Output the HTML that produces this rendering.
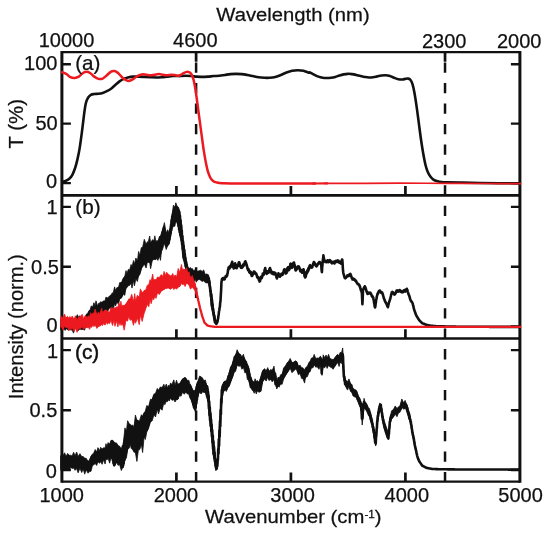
<!DOCTYPE html>
<html><head><meta charset="utf-8"><title>Spectra</title><style>html,body{margin:0;padding:0;background:#fff}body{width:550px;height:535px;overflow:hidden;position:relative}</style></head><body>
<svg width="550" height="535" viewBox="0 0 550 535" style="position:absolute;left:0;top:0">
<rect width="550" height="535" fill="#fff"/>
<defs><clipPath id="ca"><rect x="60.4" y="52.0" width="461.1" height="429.6"/></clipPath></defs>
<line x1="196.11" x2="196.11" y1="62.50" y2="481.60" stroke="#111" stroke-width="2.5" stroke-dasharray="10.3 10.17" />
<line x1="445.03" x2="445.03" y1="62.50" y2="481.60" stroke="#111" stroke-width="2.5" stroke-dasharray="10.3 10.17" />
<path d="M61.90,64.20L70.90,64.20M519.90,64.20L510.90,64.20M61.90,123.60L70.90,123.60M519.90,123.60L510.90,123.60M61.90,183.10L70.90,183.10M519.90,183.10L510.90,183.10M61.90,206.90L70.90,206.90M519.90,206.90L510.90,206.90M61.90,266.70L70.90,266.70M519.90,266.70L510.90,266.70M61.90,326.50L70.90,326.50M519.90,326.50L510.90,326.50M61.90,350.10L70.90,350.10M519.90,350.10L510.90,350.10M61.90,410.20L70.90,410.20M519.90,410.20L510.90,410.20M61.90,470.00L70.90,470.00M519.90,470.00L510.90,470.00" stroke="#111" stroke-width="2.4" fill="none"/>
<path d="M176.40,195.30L176.40,186.10M290.90,195.30L290.90,186.10M405.40,195.30L405.40,186.10M176.40,338.50L176.40,329.30M290.90,338.50L290.90,329.30M405.40,338.50L405.40,329.30M176.40,481.60L176.40,472.40M290.90,481.60L290.90,472.40M405.40,481.60L405.40,472.40M196.11,52.05L196.11,61.65M445.03,52.05L445.03,61.65" stroke="#111" stroke-width="2.7" fill="none"/>
<path d="M61.9,50.9V482.7M519.9,50.9V482.7" stroke="#111" stroke-width="3" fill="none"/>
<path d="M61.90,52.05H519.90M61.90,481.60H519.90" stroke="#111" stroke-width="2.35" fill="none"/>
<path d="M61.90,195.30H519.90M61.90,338.50H519.90" stroke="#111" stroke-width="2.7" fill="none"/>
<g clip-path="url(#ca)">
<path d="M61.17,181.78C61.78,181.68 63.50,181.68 64.81,181.21C66.12,180.75 67.76,180.05 69.02,178.97C70.28,177.90 71.36,176.64 72.38,174.77C73.41,172.90 74.35,170.33 75.19,167.76C76.03,165.19 76.68,162.62 77.43,159.35C78.18,156.07 78.97,152.34 79.67,148.13C80.37,143.93 81.07,138.32 81.64,134.11C82.20,129.91 82.57,126.64 83.04,122.90C83.50,119.16 83.97,114.95 84.44,111.68C84.91,108.41 85.23,105.61 85.84,103.27C86.45,100.93 87.24,99.07 88.08,97.66C88.93,96.26 89.86,95.47 90.89,94.86C91.92,94.25 92.99,94.21 94.25,94.02C95.51,93.83 97.06,93.93 98.46,93.74C99.86,93.55 101.26,93.32 102.66,92.90C104.07,92.48 105.47,91.92 106.87,91.21C108.27,90.51 109.67,89.72 111.07,88.69C112.48,87.66 113.88,86.26 115.28,85.05C116.68,83.83 118.08,82.43 119.49,81.40C120.89,80.37 122.29,79.53 123.69,78.88C125.09,78.22 126.26,77.85 127.90,77.48C129.53,77.10 131.64,76.78 133.50,76.64C135.37,76.50 137.24,76.59 139.11,76.64C140.98,76.68 142.85,76.82 144.72,76.92C146.59,77.01 148.46,77.10 150.33,77.20C152.20,77.29 154.07,77.48 155.93,77.48C157.80,77.48 159.67,77.34 161.54,77.20C163.41,77.06 165.28,76.82 167.15,76.64C169.02,76.45 170.89,76.17 172.76,76.07C174.63,75.98 177.16,76.07 178.36,76.07C179.57,76.07 178.79,76.12 180.00,76.07C181.21,76.03 183.74,75.79 185.61,75.79C187.48,75.79 189.35,75.93 191.21,76.07C193.08,76.21 194.95,76.50 196.82,76.64C198.69,76.78 200.56,76.92 202.43,76.92C204.30,76.92 206.17,76.78 208.04,76.64C209.91,76.50 211.78,76.21 213.64,76.07C215.51,75.93 217.38,75.98 219.25,75.79C221.12,75.61 222.99,75.23 224.86,74.95C226.73,74.67 228.60,74.30 230.47,74.11C232.34,73.93 234.21,73.83 236.07,73.83C237.94,73.83 239.81,73.93 241.68,74.11C243.55,74.30 245.42,74.63 247.29,74.95C249.16,75.28 251.03,75.70 252.90,76.07C254.77,76.45 256.64,76.92 258.50,77.20C260.37,77.48 262.24,77.66 264.11,77.76C265.98,77.85 267.85,77.90 269.72,77.76C271.59,77.62 273.46,77.38 275.33,76.92C277.20,76.45 279.07,75.70 280.93,74.95C282.80,74.21 284.67,73.13 286.54,72.43C288.41,71.73 290.28,71.12 292.15,70.75C294.02,70.37 295.89,70.19 297.76,70.19C299.63,70.19 301.50,70.33 303.36,70.75C305.23,71.17 307.87,72.43 308.97,72.71C310.08,72.99 309.13,72.10 310.00,72.43C310.87,72.76 312.80,73.97 314.21,74.67C315.61,75.37 317.01,76.12 318.41,76.64C319.81,77.15 321.21,77.52 322.62,77.76C324.02,77.99 325.42,78.04 326.82,78.04C328.22,78.04 329.63,77.94 331.03,77.76C332.43,77.57 333.83,77.29 335.23,76.92C336.64,76.54 338.04,75.93 339.44,75.51C340.84,75.09 342.24,74.67 343.64,74.39C345.05,74.11 346.45,73.88 347.85,73.83C349.25,73.79 350.65,73.93 352.06,74.11C353.46,74.30 354.86,74.63 356.26,74.95C357.66,75.28 359.07,75.75 360.47,76.07C361.87,76.40 363.27,76.68 364.67,76.92C366.07,77.15 367.48,77.43 368.88,77.48C370.28,77.52 371.68,77.38 373.08,77.20C374.49,77.01 375.89,76.64 377.29,76.36C378.69,76.07 380.09,75.70 381.50,75.51C382.90,75.33 384.30,75.14 385.70,75.23C387.10,75.33 388.50,75.65 389.91,76.07C391.31,76.50 392.71,77.24 394.11,77.76C395.51,78.27 396.92,78.88 398.32,79.16C399.72,79.44 401.36,79.49 402.52,79.44C403.69,79.39 404.39,79.02 405.33,78.88C406.26,78.74 407.29,78.46 408.13,78.60C408.97,78.74 409.67,78.88 410.37,79.72C411.07,80.56 411.68,81.59 412.34,83.64C412.99,85.70 413.60,88.32 414.30,92.06C415.00,95.79 415.79,100.93 416.54,106.07C417.29,111.21 418.04,117.29 418.79,122.90C419.53,128.50 420.28,134.58 421.03,139.72C421.78,144.86 422.52,149.53 423.27,153.74C424.02,157.94 424.77,161.92 425.51,164.95C426.26,167.99 426.92,170.00 427.76,171.96C428.60,173.93 429.63,175.47 430.56,176.73C431.50,177.99 432.20,178.79 433.36,179.53C434.53,180.28 436.17,180.79 437.57,181.21C438.97,181.64 440.14,181.87 441.78,182.06C443.41,182.24 444.35,182.24 447.38,182.34C450.42,182.43 454.56,182.51 460.00,182.62C465.44,182.73 469.83,182.87 480.00,183.00C490.17,183.13 514.17,183.33 521.00,183.40" stroke="#111" stroke-width="2.6" fill="none" stroke-linejoin="round"/>
<path d="M312,183.45L328,183.4" stroke="#ec1a20" stroke-width="2.1" fill="none"/>
<path d="M61.17,71.87C62.01,72.20 64.67,72.94 66.21,73.83C67.76,74.72 69.02,76.50 70.42,77.20C71.82,77.90 73.22,78.13 74.63,78.04C76.03,77.94 77.43,77.48 78.83,76.64C80.23,75.79 81.78,73.79 83.04,72.99C84.30,72.20 85.23,71.87 86.40,71.87C87.57,71.87 88.74,72.20 90.05,72.99C91.36,73.79 92.85,75.65 94.25,76.64C95.65,77.62 97.06,78.55 98.46,78.88C99.86,79.21 101.26,79.21 102.66,78.60C104.07,77.99 105.47,76.40 106.87,75.23C108.27,74.07 109.81,72.29 111.07,71.59C112.34,70.89 113.27,70.79 114.44,71.03C115.61,71.26 116.78,71.92 118.08,72.99C119.39,74.07 120.89,76.26 122.29,77.48C123.69,78.69 125.33,79.72 126.50,80.28C127.66,80.84 128.13,81.07 129.30,80.84C130.47,80.61 132.10,79.72 133.50,78.88C134.91,78.04 136.31,76.54 137.71,75.79C139.11,75.05 140.51,74.58 141.92,74.39C143.32,74.21 144.72,74.53 146.12,74.67C147.52,74.81 148.93,75.23 150.33,75.23C151.73,75.23 153.13,74.86 154.53,74.67C155.93,74.49 157.34,74.11 158.74,74.11C160.14,74.11 161.54,74.49 162.94,74.67C164.35,74.86 165.75,75.23 167.15,75.23C168.55,75.23 169.95,74.67 171.36,74.67C172.76,74.67 174.39,75.05 175.56,75.23C176.73,75.42 177.43,75.89 178.36,75.79C179.30,75.70 180.23,75.14 181.17,74.67C182.10,74.21 183.04,73.46 183.97,72.99C184.91,72.52 185.84,71.96 186.78,71.87C187.71,71.78 188.84,72.10 189.58,72.43C190.32,72.76 190.57,72.66 191.21,73.83C191.86,75.00 192.76,76.87 193.46,79.44C194.16,82.01 194.77,85.28 195.42,89.25C196.07,93.22 196.68,98.13 197.38,103.27C198.08,108.41 198.88,114.49 199.63,120.09C200.37,125.70 201.17,131.78 201.87,136.92C202.57,142.06 203.18,146.73 203.83,150.93C204.49,155.14 205.09,158.64 205.79,162.15C206.50,165.65 207.29,169.39 208.04,171.96C208.79,174.53 209.44,176.07 210.28,177.57C211.12,179.07 212.06,180.14 213.08,180.93C214.11,181.73 214.95,181.96 216.45,182.34C217.94,182.71 218.79,182.99 222.06,183.18C225.33,183.36 220.42,183.41 236.07,183.46C251.73,183.50 302.68,183.45 316.00,183.45" stroke="#ec1a20" stroke-width="2.5" fill="none" stroke-linejoin="round"/>
<path d="M324.00,183.40C330.00,183.38 347.33,183.33 360.00,183.30C372.67,183.27 385.00,183.20 400.00,183.20C415.00,183.20 435.00,183.25 450.00,183.30C465.00,183.35 478.07,183.45 490.00,183.50C501.93,183.55 516.33,183.58 521.60,183.60" stroke="#ec1a20" stroke-width="1.7" fill="none" stroke-linejoin="round"/>
<path d="M60.00,322.24L60.30,326.48L60.60,322.82L60.90,327.30L61.20,323.05L61.50,327.54L61.80,322.71L62.10,327.55L62.40,322.61L62.70,327.20L63.00,321.72L63.30,325.95L63.60,321.08L63.90,325.97L64.20,321.89L64.50,326.66L64.80,322.18L65.10,326.51L65.40,321.90L65.70,326.46L66.00,321.77L66.30,326.38L66.60,321.47L66.90,326.48L67.20,321.73L67.50,327.06L67.80,322.20L68.10,327.22L68.40,322.14L68.70,326.83L69.00,321.85L69.30,326.87L69.60,322.06L69.90,327.32L70.20,321.99L70.50,326.99L70.80,321.56L71.10,326.70L71.40,321.87L71.70,327.22L72.00,322.36L72.30,327.80L72.60,322.54L72.90,328.04L73.20,322.56L73.50,327.99L73.80,322.37L74.10,327.55L74.40,321.45L74.70,326.07L75.00,320.34L75.30,324.78L75.60,320.12L75.90,324.61L76.20,320.37L76.50,324.90L76.80,320.34L77.10,325.07L77.40,319.90L77.70,325.18L78.00,319.82L78.30,325.35L78.60,319.60L78.90,325.36L79.20,319.74L79.50,326.11L79.80,320.94L80.10,327.12L80.40,321.97L80.70,327.57L81.00,322.26L81.30,327.13L81.60,322.00L81.90,326.66L82.20,322.43L82.50,326.74L82.80,323.22L83.10,326.81L83.40,323.45L83.70,326.62L84.00,322.90L84.30,325.54L84.60,320.47L84.90,323.53L85.20,318.26L85.50,322.60L85.80,317.67L86.10,322.42L86.40,317.11L86.70,321.18L87.00,316.12L87.30,319.85L87.60,315.81L87.90,318.84L88.20,315.47L88.50,318.17L88.80,315.18L89.10,318.11L89.40,314.45L89.70,317.37L90.00,312.82L90.30,316.07L90.60,311.38L90.90,315.55L91.20,310.89L91.50,315.87L91.80,310.74L92.10,315.82L92.40,309.94L92.70,314.90L93.00,309.37L93.30,314.40L93.60,309.84L93.90,314.07L94.20,309.95L94.50,312.86L94.80,308.97L95.10,311.77L95.40,308.08L95.70,311.87L96.00,307.87L96.30,312.50L96.60,308.25L96.90,313.13L97.20,308.84L97.50,313.67L97.80,308.83L98.10,313.63L98.40,307.72L98.70,312.85L99.00,306.52L99.30,311.93L99.60,305.87L99.90,310.89L100.20,305.68L100.50,309.99L100.80,305.84L101.10,309.30L101.40,305.69L101.70,308.50L102.00,304.98L102.30,307.94L102.60,304.40L102.90,307.83L103.20,304.41L103.50,307.84L103.80,304.48L104.10,307.55L104.40,304.27L104.70,307.14L105.00,303.71L105.30,306.86L105.60,303.23L105.90,306.61L106.20,302.87L106.50,305.95L106.80,302.03L107.10,305.41L107.40,300.95L107.70,305.29L108.00,300.24L108.30,305.53L108.60,299.73L108.90,305.68L109.20,299.29L109.50,305.86L109.80,298.88L110.10,305.65L110.40,297.97L110.70,304.98L111.00,297.05L111.30,304.26L111.60,296.28L111.90,303.57L112.20,295.79L112.50,303.09L112.80,295.60L113.10,302.70L113.40,295.53L113.70,302.13L114.00,295.13L114.30,301.47L114.60,294.48L114.90,300.91L115.20,293.63L115.50,300.41L115.80,293.04L116.10,300.16L116.40,292.82L116.70,300.12L117.00,292.48L117.30,299.98L117.60,291.71L117.90,299.64L118.20,290.48L118.50,298.78L118.80,289.08L119.10,297.49L119.40,287.91L119.70,297.09L120.00,287.41L120.30,297.39L120.60,286.52L120.90,297.14L121.20,285.14L121.50,296.13L121.80,283.99L122.10,294.61L122.40,282.98L122.70,292.78L123.00,281.77L123.30,291.37L123.60,280.40L123.90,290.56L124.20,279.05L124.50,289.87L124.80,278.03L125.10,288.54L125.40,277.20L125.70,286.20L126.00,276.65L126.30,283.70L126.60,276.55L126.90,282.31L127.20,276.27L127.50,282.35L127.80,275.29L128.10,282.99L128.40,273.80L128.70,283.25L129.00,272.84L129.30,283.03L129.60,272.77L129.90,282.50L130.20,272.79L130.50,281.71L130.80,272.00L131.10,280.84L131.40,270.50L131.70,279.98L132.00,269.01L132.30,278.91L132.60,268.09L132.90,277.85L133.20,267.80L133.50,277.02L133.80,267.38L134.10,276.35L134.40,266.30L134.70,276.02L135.00,265.11L135.30,276.35L135.60,264.45L135.90,276.82L136.20,264.17L136.50,276.88L136.80,264.14L137.10,276.66L137.40,263.97L137.70,275.99L138.00,262.69L138.30,274.81L138.60,260.95L138.90,273.32L139.20,259.20L139.50,271.81L139.80,258.01L140.10,270.38L140.40,257.58L140.70,268.52L141.00,256.62L141.30,266.04L141.60,254.87L141.90,264.03L142.20,252.42L142.50,262.54L142.80,249.74L143.10,261.51L143.40,248.47L143.70,262.04L144.00,248.31L144.30,262.62L144.60,248.28L144.90,262.48L145.20,247.98L145.50,261.89L145.80,247.58L146.10,261.41L146.40,246.81L146.70,260.78L147.00,245.86L147.30,260.15L147.60,245.27L147.90,259.38L148.20,244.64L148.50,258.73L148.80,244.46L149.10,259.32L149.40,245.01L149.70,260.71L150.00,245.45L150.30,261.40L150.60,245.27L150.90,260.65L151.20,244.83L151.50,259.52L151.80,244.56L152.10,258.54L152.40,243.89L152.70,257.53L153.00,243.39L153.30,257.81L153.60,243.14L153.90,258.13L154.20,243.15L154.50,258.28L154.80,243.76L155.10,257.89L155.40,244.62L155.70,257.09L156.00,244.89L156.30,255.81L156.60,244.58L156.90,254.69L157.20,244.21L157.50,254.34L157.80,243.52L158.10,254.28L158.40,242.34L158.70,254.31L159.00,241.39L159.30,254.32L159.60,240.72L159.90,254.02L160.20,239.69L160.50,252.25L160.80,237.85L161.10,249.79L161.40,236.20L161.70,246.71L162.00,234.49L162.30,243.81L162.60,232.38L162.90,241.09L163.20,229.68L163.50,238.83L163.80,227.85L164.10,238.04L164.40,230.03L164.70,240.82L165.00,233.32L165.30,243.26L165.60,235.19L165.90,245.03L166.20,236.27L166.50,245.55L166.80,235.94L167.10,244.96L167.40,235.99L167.70,243.93L168.00,236.33L168.30,242.92L168.60,236.33L168.90,241.18L169.20,235.69L169.50,239.27L169.80,233.69L170.10,235.96L170.40,229.27L170.70,233.12L171.00,224.99L171.30,230.04L171.60,220.17L171.90,226.96L172.20,216.75L172.50,226.05L172.80,214.49L173.10,224.51L173.40,212.21L173.70,223.19L174.00,210.75L174.30,222.15L174.60,209.60L174.90,221.26L175.20,208.41L175.50,219.82L175.80,206.83L176.10,219.47L176.40,206.83L176.70,219.88L177.00,207.47L177.30,220.92L177.60,208.33L177.90,222.97L178.20,209.59L178.50,226.11L178.80,210.83L179.10,229.39L179.40,212.16L179.70,232.24L180.00,215.91L180.30,234.98L180.60,220.30L180.90,236.93L181.20,225.18L181.50,240.13L181.80,230.70L182.10,244.45L182.40,236.02L182.70,249.32L183.00,241.27L183.30,253.54L183.60,246.00L183.90,257.15L184.20,250.13L184.50,260.13L184.80,254.13L185.10,263.25L185.40,258.16L185.70,265.97L186.00,261.43L186.30,268.80L186.60,265.10L186.90,271.53L187.20,267.69L187.50,273.03L187.80,269.15L188.10,273.50L188.40,270.43L188.70,274.48L189.00,272.04L189.30,275.66L189.60,272.81L189.90,275.66L190.20,271.79L190.50,274.72L190.80,270.98L191.10,274.87L191.40,271.54L191.70,275.50L192.00,272.08L192.30,275.52L192.60,272.50L192.90,275.90L193.20,273.40L193.50,276.60L193.80,273.68L194.10,276.55L194.40,273.19L194.70,276.45L195.00,273.02L195.30,276.81L195.60,273.00L195.90,276.94L196.20,272.84L196.50,276.95L196.80,273.24L197.10,277.31L197.40,273.97L197.70,277.60L198.00,274.32L198.30,277.48L198.60,273.85L198.90,277.03L199.20,273.16L199.50,276.77L199.80,272.94L200.10,277.07L200.40,273.39L200.70,277.82L201.00,273.80L201.30,278.45L201.60,273.82L201.90,278.93L202.20,273.81L202.50,278.93L202.80,273.87L203.10,278.20L203.40,274.47L203.70,278.24L204.00,275.87L204.30,278.89L204.60,276.65L204.90,279.38L205.20,277.03L205.50,279.83L205.80,277.37L206.10,279.90L206.40,278.01L206.70,280.35L207.00,278.97L207.30,280.49L207.60,278.42L207.90,279.49L208.20,277.60L208.50,279.25L208.80,278.42L209.10,281.42L209.40,281.23L209.70,285.79L210.00,286.50L210.30,291.67L210.60,290.63L210.90,296.16L211.20,294.08L211.50,300.60L211.80,299.08L212.10,305.86L212.40,304.16L212.70,309.61L213.00,308.56L213.30,312.90L213.60,312.49L213.90,315.56L214.20,315.57L214.50,318.28L214.80,318.99L215.10,321.15L215.40,321.04L215.70,322.33L216.00,322.70L216.30,323.97L216.60,323.14L216.90,323.12L217.20,321.94L217.50,321.89L217.80,319.72L218.10,318.60L218.40,315.78L218.70,314.63L219.00,311.34L219.30,310.24L219.60,307.62L219.90,306.79L220.20,302.71L220.50,301.04L220.80,295.37L221.10,290.75L221.40,282.87L221.70,281.03L222.00,279.06L222.30,279.78L222.60,278.25L222.90,278.93L223.20,277.96L223.50,278.67L223.80,278.24L224.10,279.41L224.40,278.85L224.70,279.29L225.00,277.78L225.30,277.76L225.60,276.31L225.90,276.78L226.20,275.93L226.50,276.59L226.80,275.41L227.10,275.70L227.40,273.55L227.70,273.05L228.00,270.22L228.30,269.89L228.60,267.44L228.90,268.38L229.20,266.89L229.50,268.53L229.80,266.58L230.10,267.55L230.40,265.71L230.70,267.00L231.00,265.17L231.30,265.93L231.60,263.25L231.90,263.93L232.20,261.88L232.50,264.16L232.80,263.84L233.10,266.90L233.40,266.68L233.70,268.49L234.00,267.02L234.30,267.52L234.60,265.19L234.90,265.37L235.20,263.37L235.50,265.04L235.80,264.90L236.10,267.83L236.40,267.05L236.70,268.18L237.00,265.77L237.30,266.56L237.60,264.95L237.90,266.17L238.20,264.31L238.50,264.41L238.80,262.42L239.10,263.01L239.40,262.44L239.70,264.30L240.00,264.57L240.30,266.61L240.60,266.33L240.90,267.60L241.20,266.55L241.50,267.63L241.80,266.70L242.10,267.80L242.40,266.53L242.70,266.99L243.00,265.12L243.30,265.61L243.60,264.13L243.90,265.49L244.20,263.91L244.50,264.60L244.80,262.07L245.10,262.82L245.40,261.34L245.70,263.24L246.00,262.66L246.30,264.79L246.60,264.45L246.90,266.56L247.20,266.62L247.50,268.92L247.80,268.58L248.10,270.16L248.40,269.10L248.70,270.71L249.00,270.32L249.30,272.44L249.60,271.88L249.90,272.87L250.20,271.54L250.50,272.44L250.80,272.06L251.10,274.06L251.40,274.29L251.70,275.96L252.00,275.13L252.30,275.83L252.60,274.24L252.90,274.43L253.20,272.75L253.50,272.98L253.80,271.66L254.10,272.37L254.40,271.68L254.70,272.87L255.00,272.51L255.30,273.72L255.60,273.20L255.90,274.15L256.20,273.58L256.50,275.06L256.80,275.05L257.10,276.98L257.40,276.52L257.70,278.02L258.00,276.96L258.30,278.58L258.60,277.83L258.90,279.99L259.20,279.69L259.50,281.58L259.80,280.50L260.10,281.00L260.40,278.70L260.70,278.41L261.00,276.72L261.30,278.58L261.60,276.85L261.90,277.76L262.20,276.05L262.50,276.15L262.80,273.56L263.10,274.86L263.40,273.27L263.70,274.77L264.00,272.81L264.30,272.95L264.60,269.80L264.90,269.53L265.20,268.04L265.50,270.17L265.80,270.69L266.10,273.30L266.40,272.81L266.70,273.90L267.00,272.15L267.30,272.86L267.60,271.26L267.90,272.61L268.20,271.45L268.50,272.83L268.80,271.02L269.10,271.57L269.40,269.14L269.70,269.71L270.00,268.08L270.30,269.91L270.60,269.56L270.90,272.15L271.20,271.57L271.50,273.37L271.80,271.74L272.10,273.12L272.40,271.90L272.70,273.80L273.00,272.83L273.30,274.15L273.60,272.63L273.90,273.76L274.20,272.51L274.50,274.30L274.80,273.00L275.10,274.59L275.40,272.98L275.70,274.97L276.00,274.41L276.30,277.12L276.60,276.79L276.90,278.41L277.20,276.88L277.50,277.10L277.80,274.89L278.10,275.08L278.40,273.38L278.70,274.80L279.00,274.13L279.30,276.38L279.60,275.48L279.90,276.67L280.20,274.97L280.50,276.01L280.80,274.55L281.10,275.43L281.40,273.86L281.70,274.75L282.00,273.62L282.30,274.89L282.60,273.71L282.90,274.43L283.20,272.46L283.50,272.54L283.80,270.41L284.10,270.98L284.40,269.28L284.70,270.59L285.00,269.61L285.30,272.22L285.60,271.16L285.90,273.58L286.20,271.07L286.50,273.08L286.80,269.76L287.10,271.82L287.40,268.05L287.70,270.44L288.00,267.21L288.30,270.00L288.60,267.45L288.90,270.22L289.20,267.64L289.50,269.32L289.80,266.21L290.10,267.11L290.40,263.81L290.70,265.11L291.00,263.66L291.30,266.91L291.60,265.68L291.90,267.84L292.20,265.68L292.50,266.76L292.80,264.23L293.10,265.11L293.40,262.86L293.70,263.95L294.00,262.54L294.30,264.66L294.60,264.73L294.90,267.95L295.20,268.10L295.50,270.38L295.80,269.03L296.10,270.24L296.40,268.33L296.70,269.32L297.00,267.31L297.30,268.37L297.60,266.60L297.90,267.89L298.20,266.41L298.50,267.80L298.80,266.52L299.10,268.02L299.40,267.39L299.70,269.60L300.00,269.57L300.30,271.41L300.60,270.54L300.90,271.30L301.20,269.91L301.50,271.37L301.80,270.70L302.10,272.82L302.40,271.38L302.70,272.38L303.00,269.78L303.30,270.83L303.60,269.29L303.90,272.05L304.20,272.07L304.50,276.03L304.80,276.03L305.10,277.43L305.40,275.46L305.70,276.81L306.00,274.88L306.30,274.66L306.60,271.80L306.90,273.05L307.20,270.93L307.50,272.33L307.80,269.75L308.10,271.03L308.40,268.37L308.70,269.88L309.00,267.27L309.30,268.44L309.60,265.87L309.90,266.79L310.20,265.17L310.50,266.58L310.80,265.64L311.10,267.26L311.40,266.36L311.70,267.65L312.00,266.69L312.30,267.34L312.60,265.69L312.90,265.36L313.20,263.37L313.50,263.26L313.80,262.09L314.10,262.86L314.40,262.54L314.70,263.80L315.00,263.68L315.30,264.93L315.60,264.71L315.90,265.94L316.20,265.49L316.50,266.41L316.80,265.37L317.10,265.72L317.40,264.36L317.70,264.70L318.00,263.64L318.30,263.97L318.60,262.91L318.90,263.08L319.20,262.12L319.50,262.50L319.80,262.10L320.10,262.96L320.40,262.86L320.70,263.83L321.00,263.50L321.30,265.77L321.60,270.09L321.90,272.11L322.20,267.23L322.50,264.26L322.80,260.35L323.10,258.82L323.40,255.34L323.70,257.38L324.00,258.51L324.30,261.50L324.60,260.64L324.90,261.77L325.20,261.09L325.50,262.04L325.80,261.08L326.10,262.03L326.40,261.34L326.70,262.20L327.00,261.08L327.30,261.34L327.60,260.36L327.90,261.39L328.20,261.09L328.50,262.18L328.80,261.23L329.10,261.64L329.40,260.37L329.70,261.08L330.00,260.20L330.30,261.44L330.60,260.84L330.90,262.25L331.20,261.71L331.50,263.04L331.80,262.34L332.10,263.32L332.40,262.37L332.70,263.10L333.00,261.91L333.30,262.68L333.60,261.71L333.90,263.02L334.20,262.31L334.50,263.43L334.80,262.00L335.10,262.61L335.40,261.10L335.70,261.99L336.00,260.88L336.30,261.96L336.60,260.98L336.90,261.95L337.20,260.80L337.50,261.61L337.80,260.43L338.10,261.46L338.40,260.76L338.70,262.20L339.00,261.72L339.30,262.69L339.60,261.77L339.90,262.47L340.20,261.96L340.50,263.07L340.80,262.80L341.10,263.64L341.40,262.86L341.70,261.85L342.00,259.48L342.30,259.62L342.60,263.71L342.90,269.10L343.20,272.13L343.50,273.76L343.80,274.37L344.10,275.99L344.40,276.54L344.70,277.98L345.00,278.07L345.30,278.39L345.60,277.58L345.90,277.90L346.20,277.21L346.50,277.34L346.80,276.30L347.10,276.28L347.40,275.43L347.70,275.92L348.00,275.36L348.30,276.03L348.60,275.32L348.90,275.96L349.20,274.95L349.50,275.36L349.80,274.14L350.10,274.54L350.40,273.85L350.70,275.00L351.00,275.15L351.30,276.79L351.60,277.11L351.90,278.57L352.20,278.57L352.50,279.50L352.80,278.89L353.10,279.28L353.40,278.61L353.70,279.24L354.00,278.89L354.30,279.71L354.60,279.45L354.90,280.37L355.20,280.08L355.50,280.90L355.80,280.55L356.10,281.53L356.40,281.57L356.70,282.78L357.00,282.78L357.30,283.62L357.60,283.33L357.90,284.06L358.20,283.80L358.50,284.61L358.80,284.35L359.10,285.34L359.40,285.09L359.70,286.49L360.00,286.57L360.30,288.35L360.60,288.52L360.90,290.45L361.20,290.40L361.50,291.91L361.80,291.50L362.10,297.98L362.40,304.22L362.70,298.72L363.00,290.07L363.30,289.76L363.60,288.20L363.90,288.46L364.20,287.37L364.50,287.28L364.80,286.26L365.10,287.25L365.40,287.32L365.70,288.90L366.00,289.23L366.30,290.81L366.60,291.07L366.90,292.62L367.20,292.79L367.50,293.97L367.80,293.40L368.10,293.75L368.40,292.87L368.70,293.21L369.00,292.63L369.30,293.27L369.60,292.74L369.90,293.35L370.20,292.60L370.50,293.46L370.80,293.12L371.10,294.37L371.40,294.44L371.70,295.88L372.00,295.74L372.30,296.88L372.60,296.43L372.90,297.55L373.20,297.37L373.50,299.54L373.80,300.23L374.10,302.87L374.40,303.97L374.70,306.51L375.00,307.41L375.30,306.72L375.60,304.06L375.90,302.39L376.20,299.59L376.50,298.76L376.80,296.53L377.10,295.81L377.40,293.96L377.70,294.26L378.00,292.80L378.30,292.95L378.60,291.51L378.90,291.76L379.20,290.72L379.50,291.29L379.80,290.57L380.10,290.97L380.40,291.23L380.70,292.38L381.00,292.06L381.30,292.78L381.60,292.20L381.90,292.90L382.20,292.54L382.50,293.78L382.80,294.00L383.10,295.67L383.40,296.32L383.70,297.90L384.00,298.19L384.30,299.50L384.60,299.73L384.90,301.15L385.20,301.35L385.50,302.31L385.80,302.24L386.10,303.30L386.40,303.41L386.70,304.65L387.00,304.81L387.30,306.12L387.60,306.16L387.90,307.29L388.20,305.57L388.50,304.73L388.80,302.92L389.10,302.43L389.40,301.06L389.70,300.71L390.00,299.16L390.30,298.90L390.60,297.00L390.90,296.32L391.20,294.25L391.50,293.91L391.80,292.19L392.10,292.76L392.40,291.88L392.70,292.95L393.00,292.34L393.30,293.55L393.60,293.03L393.90,294.19L394.20,293.73L394.50,294.62L394.80,293.78L395.10,294.16L395.40,292.98L395.70,293.13L396.00,291.79L396.30,291.85L396.60,290.63L396.90,291.08L397.20,290.45L397.50,291.38L397.80,290.85L398.10,291.68L398.40,290.85L398.70,291.44L399.00,290.31L399.30,290.88L399.60,289.99L399.90,291.01L400.20,290.43L400.50,291.55L400.80,290.86L401.10,291.91L401.40,291.15L401.70,292.19L402.00,291.36L402.30,292.37L402.60,291.42L402.90,292.25L403.20,291.05L403.50,291.64L403.80,290.20L404.10,290.91L404.40,290.02L404.70,291.19L405.00,290.65L405.30,291.57L405.60,290.49L405.90,290.61L406.20,289.24L406.50,289.45L406.80,288.73L407.10,289.91L407.40,290.02L407.70,291.59L408.00,292.11L408.30,293.76L408.60,294.08L408.90,295.29L409.20,295.46L409.50,296.87L409.80,297.45L410.10,299.10L410.40,299.49L410.70,300.68L411.00,300.69L411.30,301.51L411.60,301.49L411.90,302.25L412.20,302.28L412.50,303.32L412.80,303.90L413.10,305.46L413.40,306.35L413.70,308.04L414.00,308.88L414.30,310.34L414.60,310.72L414.90,311.84L415.20,312.37L415.50,313.56L415.80,314.05L416.10,315.06L416.40,315.46L416.70,316.27L417.00,316.52L417.30,317.23L417.60,317.57L417.90,318.24L418.20,318.54L418.50,319.09L418.80,319.43L419.10,319.99L419.40,320.40L419.70,320.72L420.00,320.98L420.30,321.28L420.60,321.58L420.90,321.88L421.20,322.18L421.50,322.48L421.80,322.78L422.10,323.08L422.40,323.23L422.70,323.35L423.00,323.47L423.30,323.59L423.60,323.71L423.90,323.83L424.20,323.95L424.50,324.07L424.80,324.19L425.10,324.31L425.40,324.43L425.70,324.55L426.00,324.67L426.30,324.79L426.60,324.86L426.90,324.92L427.20,324.98L427.50,325.04L427.80,325.10L428.10,325.16L428.40,325.22L428.70,325.28L429.00,325.34L429.30,325.40L429.60,325.46L429.90,325.52L430.20,325.58L430.50,325.64L430.80,325.68L431.10,325.71L431.40,325.74L431.70,325.77L432.00,325.80L432.30,325.83L432.60,325.86L432.90,325.89L433.20,325.92L433.50,325.95L433.80,325.98L434.10,326.01L434.40,326.04L434.70,326.07L435.00,326.10L435.30,326.13L435.60,326.16L435.90,326.19L436.20,326.22L436.50,326.22L436.80,326.23L437.10,326.24L437.40,326.24L437.70,326.25L438.00,326.26L438.30,326.27L438.60,326.27L438.90,326.28L439.20,326.29L439.50,326.29L439.80,326.30L440.10,326.31L440.40,326.31L440.70,326.32L441.00,326.33L441.30,326.34L441.60,326.34L441.90,326.35L442.20,326.36L442.50,326.36L442.80,326.37L443.10,326.38L443.40,326.39L443.70,326.39L444.00,326.40L444.30,326.41L444.60,326.41L444.90,326.42L445.20,326.43L445.50,326.43L445.80,326.44L446.10,326.45L446.40,326.46L446.70,326.46L447.00,326.47L447.30,326.48L447.60,326.48L447.90,326.49L448.20,326.50L448.50,326.51L448.80,326.51L449.10,326.52L449.40,326.53L449.70,326.53L450.00,326.54L450.30,326.55L450.60,326.55L450.90,326.56L451.20,326.57L451.50,326.58L451.80,326.58L452.10,326.59L452.40,326.60L452.70,326.60L453.00,326.61L453.30,326.62L453.60,326.63L453.90,326.63L454.20,326.64L454.50,326.65L454.80,326.65L455.10,326.66L455.40,326.67L455.70,326.67L456.00,326.68L456.30,326.69L456.60,326.70L456.90,326.70L457.20,326.71L457.50,326.72L457.80,326.72L458.10,326.73L458.40,326.74L458.70,326.75L459.00,326.75L459.30,326.76L459.60,326.77L459.90,326.77L460.20,326.78L460.50,326.77L460.80,326.77L461.10,326.77L461.40,326.77L461.70,326.77L462.00,326.77L462.30,326.77L462.60,326.77L462.90,326.77L463.20,326.77L463.50,326.77L463.80,326.77L464.10,326.77L464.40,326.76L464.70,326.76L465.00,326.76L465.30,326.76L465.60,326.76L465.90,326.76L466.20,326.76L466.50,326.76L466.80,326.76L467.10,326.76L467.40,326.76L467.70,326.76L468.00,326.76L468.30,326.75L468.60,326.75L468.90,326.75L469.20,326.75L469.50,326.75L469.80,326.75L470.10,326.75L470.40,326.75L470.70,326.75L471.00,326.75L471.30,326.76L471.60,326.76L471.90,326.76L472.20,326.76L472.50,326.76L472.80,326.76L473.10,326.76L473.40,326.76L473.70,326.76L474.00,326.77L474.30,326.77L474.60,326.77L474.90,326.77L475.20,326.77L475.50,326.77L475.80,326.77L476.10,326.77L476.40,326.78L476.70,326.78L477.00,326.78L477.30,326.78L477.60,326.78L477.90,326.78L478.20,326.78L478.50,326.78L478.80,326.78L479.10,326.79L479.40,326.79L479.70,326.79L480.00,326.79L480.30,326.79L480.60,326.79L480.90,326.79L481.20,326.79L481.50,326.80L481.80,326.80L482.10,326.80L482.40,326.80L482.70,326.80L483.00,326.80L483.30,326.80L483.60,326.80L483.90,326.80L484.20,326.81L484.50,326.81L484.80,326.81L485.10,326.81L485.40,326.81L485.70,326.81L486.00,326.81L486.30,326.81L486.60,326.82L486.90,326.82L487.20,326.82L487.50,326.82L487.80,326.82L488.10,326.82L488.40,326.82L488.70,326.82L489.00,326.82L489.30,326.83L489.60,326.83L489.90,326.83L490.20,326.83L490.50,326.83L490.80,326.83L491.10,326.83L491.40,326.83L491.70,326.84L492.00,326.84L492.30,326.84L492.60,326.84L492.90,326.84L493.20,326.84L493.50,326.84L493.80,326.84L494.10,326.84L494.40,326.85L494.70,326.85L495.00,326.85L495.30,326.85L495.60,326.85L495.90,326.85L496.20,326.85L496.50,326.85L496.80,326.86L497.10,326.86L497.40,326.86L497.70,326.86L498.00,326.86L498.30,326.86L498.60,326.86L498.90,326.86L499.20,326.86L499.50,326.87L499.80,326.87L500.10,326.87L500.40,326.87L500.70,326.87L501.00,326.87L501.30,326.87L501.60,326.87L501.90,326.88L502.20,326.88L502.50,326.88L502.80,326.88L503.10,326.88L503.40,326.88L503.70,326.88L504.00,326.88L504.30,326.88L504.60,326.89L504.90,326.89L505.20,326.89L505.50,326.89L505.80,326.89L506.10,326.89L506.40,326.89L506.70,326.89L507.00,326.90L507.30,326.90L507.60,326.90L507.90,326.90L508.20,326.90L508.50,326.90L508.80,326.90L509.10,326.90L509.40,326.90L509.70,326.91L510.00,326.91L510.30,326.91L510.60,326.91L510.90,326.91L511.20,326.91L511.50,326.91L511.80,326.91L512.10,326.92L512.40,326.92L512.70,326.92L513.00,326.92L513.30,326.92L513.60,326.92L513.90,326.92L514.20,326.92L514.50,326.92L514.80,326.93L515.10,326.93L515.40,326.93L515.70,326.93L516.00,326.93L516.30,326.93L516.60,326.93L516.90,326.93L517.20,326.94L517.50,326.94L517.80,326.94L518.10,326.94L518.40,326.94L518.70,326.94L519.00,326.94L519.30,326.94L519.60,326.94L519.90,326.95L520.20,326.95L520.50,326.95L520.80,326.95" stroke="#111" stroke-width="2.6" fill="none" stroke-linejoin="round"/>
<path d="M60.00,319.73L61.50,319.44L62.70,319.84L64.20,317.81L65.10,319.56L66.60,317.53L68.10,319.77L69.60,318.50L70.80,319.12L72.30,320.06L73.50,320.10L74.70,318.28L75.90,317.75L77.40,314.65L78.30,317.36L79.80,315.65L81.30,319.67L83.10,320.58L84.60,318.03L86.10,314.51L87.90,313.04L88.80,310.87L90.30,309.42L91.20,305.88L92.70,307.03L93.90,302.73L95.10,305.63L96.00,300.80L97.50,306.28L98.40,303.41L99.60,303.31L100.50,301.77L102.00,302.36L103.50,300.86L105.00,301.07L105.90,297.15L107.70,297.97L109.50,295.90L111.30,294.74L112.20,292.81L113.10,293.42L114.60,286.86L115.50,290.51L117.00,287.48L118.50,287.67L119.70,282.61L121.50,282.64L123.00,278.71L124.80,276.34L126.00,270.61L126.90,273.60L128.40,269.33L129.60,270.15L131.10,264.47L132.00,267.10L133.50,260.56L134.40,264.26L135.90,257.97L137.40,261.32L138.60,251.45L139.80,255.41L141.30,247.55L142.50,247.79L144.30,239.37L146.10,244.43L147.30,241.79L148.20,242.17L149.70,236.01L150.60,243.04L152.40,239.71L153.90,240.69L154.80,235.82L156.00,242.14L156.90,240.30L157.80,241.56L159.60,236.08L160.50,237.29L161.40,233.36L162.90,228.97L164.40,222.64L166.20,233.17L167.70,229.78L169.20,233.19L170.40,226.09L171.90,216.18L173.40,205.25L174.90,207.47L175.80,202.74L177.30,206.99L178.50,207.30L180.00,214.63L181.80,227.26L182.70,236.86L184.50,247.41L186.00,259.17L187.80,266.25L188.70,268.71L190.50,267.60L191.40,268.99L192.30,268.48L193.80,271.06L195.30,269.21L196.20,270.35L197.70,271.33L199.20,270.66L200.70,270.25L202.20,271.38L203.70,269.94L205.20,274.48L206.70,273.96L208.50,274.86L210.00,282.00L210.90,288.61L212.40,297.75L214.20,312.42L215.40,317.91L215.40,323.65L214.20,323.00L212.40,311.72L210.90,305.16L210.00,292.01L208.50,283.01L206.70,282.93L205.20,282.60L203.70,280.76L202.20,281.40L200.70,280.30L199.20,279.38L197.70,280.10L196.20,282.20L195.30,279.31L193.80,281.89L192.30,278.04L191.40,279.08L190.50,277.27L188.70,278.68L187.80,275.77L186.00,271.76L184.50,262.81L182.70,257.72L181.80,245.07L180.00,235.15L178.50,227.46L177.30,223.07L175.80,220.73L174.90,226.26L173.40,225.89L171.90,229.29L170.40,236.88L169.20,244.22L167.70,245.57L166.20,249.51L164.40,242.34L162.90,248.23L161.40,251.53L160.50,260.36L159.60,256.46L157.80,260.41L156.90,257.61L156.00,259.68L154.80,259.37L153.90,259.55L152.40,259.90L150.60,268.73L149.70,262.56L148.20,262.53L147.30,262.33L146.10,268.03L144.30,263.97L142.50,267.00L141.30,268.53L139.80,274.73L138.60,275.48L137.40,281.53L135.90,278.85L134.40,285.93L133.50,280.24L132.00,288.06L131.10,283.37L129.60,285.39L128.40,285.63L126.90,287.71L126.00,287.58L124.80,295.37L123.00,293.82L121.50,297.32L119.70,299.10L118.50,304.55L117.00,301.96L115.50,305.89L114.60,303.42L113.10,310.27L112.20,305.74L111.30,308.32L109.50,308.12L107.70,311.20L105.90,309.57L105.00,313.48L103.50,310.74L102.00,315.46L100.50,312.52L99.60,315.09L98.40,315.52L97.50,320.04L96.00,314.70L95.10,315.61L93.90,316.61L92.70,320.50L91.20,318.11L90.30,319.68L88.80,320.89L87.90,322.93L86.10,324.96L84.60,330.16L83.10,329.40L81.30,329.59L79.80,329.03L78.30,330.63L77.40,327.56L75.90,327.50L74.70,328.52L73.50,333.12L72.30,330.24L70.80,329.87L69.60,329.60L68.10,330.15L66.60,328.77L65.10,330.40L64.20,328.90L62.70,329.58L61.50,330.01L60.00,329.81Z" fill="#111" stroke="#111" stroke-width="0.8" stroke-linejoin="miter"/>
<path d="M60.00,320.07L60.30,324.51L60.60,320.38L60.90,324.54L61.20,320.18L61.50,324.44L61.80,319.98L62.10,324.56L62.40,320.07L62.70,324.81L63.00,320.46L63.30,325.00L63.60,320.71L63.90,324.52L64.20,320.27L64.50,323.55L64.80,319.72L65.10,323.03L65.40,319.78L65.70,323.65L66.00,320.70L66.30,324.82L66.60,321.41L66.90,325.34L67.20,321.18L67.50,324.73L67.80,320.12L68.10,323.89L68.40,319.83L68.70,324.36L69.00,320.94L69.30,325.38L69.60,321.70L69.90,325.29L70.20,321.24L70.50,324.26L70.80,320.37L71.10,323.62L71.40,320.58L71.70,324.40L72.00,321.68L72.30,325.27L72.60,322.14L72.90,325.38L73.20,321.93L73.50,325.55L73.80,322.13L74.10,326.37L74.40,322.04L74.70,326.28L75.00,320.77L75.30,325.66L75.60,319.95L75.90,325.89L76.20,320.35L76.50,326.79L76.80,321.48L77.10,327.69L77.40,322.17L77.70,327.55L78.00,322.39L78.30,326.76L78.60,321.54L78.90,325.36L79.20,320.39L79.50,324.17L79.80,319.41L80.10,323.48L80.40,318.93L80.70,323.29L81.00,319.22L81.30,323.58L81.60,319.83L81.90,323.96L82.20,320.50L82.50,324.54L82.80,321.16L83.10,324.93L83.40,321.53L83.70,325.12L84.00,321.96L84.30,325.33L84.60,321.97L84.90,325.01L85.20,321.23L85.50,324.25L85.80,320.40L86.10,324.05L86.40,320.34L86.70,324.73L87.00,320.34L87.30,325.03L87.60,319.73L87.90,325.01L88.20,319.45L88.50,325.20L88.80,319.48L89.10,325.06L89.40,319.03L89.70,324.37L90.00,318.00L90.30,323.72L90.60,317.22L90.90,323.46L91.20,316.73L91.50,323.10L91.80,316.57L92.10,322.85L92.40,316.53L92.70,322.52L93.00,316.07L93.30,322.42L93.60,315.36L93.90,322.48L94.20,314.66L94.50,322.62L94.80,314.77L95.10,323.12L95.40,315.72L95.70,323.85L96.00,316.78L96.30,324.49L96.60,317.28L96.90,325.04L97.20,317.41L97.50,325.54L97.80,317.12L98.10,325.35L98.40,316.38L98.70,324.87L99.00,315.90L99.30,324.64L99.60,315.61L99.90,324.56L100.20,315.45L100.50,324.30L100.80,315.59L101.10,323.72L101.40,315.68L101.70,322.91L102.00,315.49L102.30,322.34L102.60,315.31L102.90,322.01L103.20,314.98L103.50,321.46L103.80,314.13L104.10,320.52L104.40,312.87L104.70,319.71L105.00,312.03L105.30,319.50L105.60,311.91L105.90,319.75L106.20,312.53L106.50,320.20L106.80,313.28L107.10,320.31L107.40,313.83L107.70,320.39L108.00,314.40L108.30,320.43L108.60,314.55L108.90,320.30L109.20,314.62L109.50,320.10L109.80,314.61L110.10,319.20L110.40,313.80L110.70,318.19L111.00,312.88L111.30,317.80L111.60,312.32L111.90,317.69L112.20,311.73L112.50,317.19L112.80,311.02L113.10,317.13L113.40,310.63L113.70,317.63L114.00,310.40L114.30,318.17L114.60,310.22L114.90,318.11L115.20,310.23L115.50,317.65L115.80,310.61L116.10,317.35L116.40,310.82L116.70,317.56L117.00,310.51L117.30,318.27L117.60,309.89L117.90,318.86L118.20,309.16L118.50,319.14L118.80,308.35L119.10,319.48L119.40,307.67L119.70,320.16L120.00,307.64L120.30,320.58L120.60,308.12L120.90,320.14L121.20,308.68L121.50,319.53L121.80,309.19L122.10,319.91L122.40,309.93L122.70,320.92L123.00,310.37L123.30,320.68L123.60,309.62L123.90,319.00L124.20,307.73L124.50,317.78L124.80,306.29L125.10,317.69L125.40,305.60L125.70,317.43L126.00,305.10L126.30,316.73L126.60,304.51L126.90,316.42L127.20,303.58L127.50,315.84L127.80,302.37L128.10,314.89L128.40,301.74L128.70,314.01L129.00,301.61L129.30,313.32L129.60,301.25L129.90,313.00L130.20,300.78L130.50,314.19L130.80,301.37L131.10,315.96L131.40,302.62L131.70,317.56L132.00,303.55L132.30,318.78L132.60,303.73L132.90,319.30L133.20,303.54L133.50,319.21L133.80,303.43L134.10,318.17L134.40,302.84L134.70,317.18L135.00,302.51L135.30,316.53L135.60,302.82L135.90,316.21L136.20,303.52L136.50,316.45L136.80,304.02L137.10,316.25L137.40,303.46L137.70,315.29L138.00,302.05L138.30,314.46L138.60,300.98L138.90,314.35L139.20,300.41L139.50,314.00L139.80,299.73L140.10,312.20L140.40,298.58L140.70,309.75L141.00,297.29L141.30,308.61L141.60,296.36L141.90,308.72L142.20,295.57L142.50,309.67L142.80,295.93L143.10,310.84L143.40,296.49L143.70,310.43L144.00,295.22L144.30,306.50L144.60,293.24L144.90,303.65L145.20,292.41L145.50,301.88L145.80,292.70L146.10,300.83L146.40,293.27L146.70,300.73L147.00,293.14L147.30,301.55L147.60,292.02L147.90,301.17L148.20,289.78L148.50,299.63L148.80,287.21L149.10,298.04L149.40,285.43L149.70,296.85L150.00,284.36L150.30,295.72L150.60,283.62L150.90,295.02L151.20,283.11L151.50,295.17L151.80,282.71L152.10,296.00L152.40,282.82L152.70,296.46L153.00,282.85L153.30,296.19L153.60,283.18L153.90,295.37L154.20,283.61L154.50,294.65L154.80,284.07L155.10,294.35L155.40,283.92L155.70,293.76L156.00,283.14L156.30,292.84L156.60,282.40L156.90,291.86L157.20,281.67L157.50,290.72L157.80,280.83L158.10,289.61L158.40,280.13L158.70,288.94L159.00,279.51L159.30,288.91L159.60,278.78L159.90,289.44L160.20,278.22L160.50,290.03L160.80,278.03L161.10,290.19L161.40,278.00L161.70,289.88L162.00,277.95L162.30,289.52L162.60,277.98L162.90,289.13L163.20,277.68L163.50,288.76L163.80,277.31L164.10,288.24L164.40,277.40L164.70,287.59L165.00,277.68L165.30,287.04L165.60,277.56L165.90,286.95L166.20,277.11L166.50,287.48L166.80,276.78L167.10,287.31L167.40,276.45L167.70,287.16L168.00,276.12L168.30,287.13L168.60,276.32L168.90,287.32L169.20,276.79L169.50,287.49L169.80,277.28L170.10,287.15L170.40,277.59L170.70,286.58L171.00,278.17L171.30,286.25L171.60,278.70L171.90,285.71L172.20,278.73L172.50,285.22L172.80,278.64L173.10,285.20L173.40,278.77L173.70,285.73L174.00,278.93L174.30,286.34L174.60,278.90L174.90,286.47L175.20,278.78L175.50,286.56L175.80,279.19L176.10,287.14L176.40,279.72L176.70,287.01L177.00,279.10L177.30,286.54L177.60,278.30L177.90,286.25L178.20,276.97L178.50,285.98L178.80,275.56L179.10,286.02L179.40,274.53L179.70,285.34L180.00,273.54L180.30,284.05L180.60,272.69L180.90,282.36L181.20,272.05L181.50,281.18L181.80,271.38L182.10,281.42L182.40,271.72L182.70,282.47L183.00,271.74L183.30,283.01L183.60,271.36L183.90,283.05L184.20,270.99L184.50,282.79L184.80,271.06L185.10,282.13L185.40,271.65L185.70,281.23L186.00,272.44L186.30,280.93L186.60,273.22L186.90,281.23L187.20,274.14L187.50,282.00L187.80,275.54L188.10,282.73L188.40,277.09L188.70,282.89L189.00,277.98L189.30,282.58L189.60,278.56L189.90,282.63L190.20,279.69L190.50,283.66L190.80,281.05L191.10,284.42L191.40,281.40L191.70,284.36L192.00,281.19L192.30,284.55L192.60,281.91L192.90,285.33L193.20,282.78L193.50,285.28L193.80,282.98L194.10,285.04L194.40,283.83L194.70,286.00L195.00,286.05L195.30,288.44L195.60,288.94L195.90,291.00L196.20,291.43L196.50,293.21L196.80,293.93L197.10,295.69L197.40,296.35L197.70,298.11L198.00,298.94L198.30,300.75L198.60,301.65L198.90,303.36L199.20,304.24L199.50,305.94L199.80,306.89L200.10,308.57L200.40,309.33L200.70,310.68L201.00,311.22L201.30,312.61L201.60,313.56L201.90,315.24L202.20,315.93L202.50,317.22L202.80,317.68L203.10,318.75L203.40,319.31L203.70,320.49L204.00,321.17L204.30,322.28L204.60,322.77L204.90,323.21L205.20,323.24L205.50,323.63L205.80,323.76L206.10,324.17L206.40,324.41L206.70,324.83L207.00,325.13L207.30,325.47L207.60,325.55L207.90,325.66L208.20,325.71L208.50,325.79L208.80,325.86L209.10,325.94L209.40,326.02L209.70,326.10L210.00,326.18L210.30,326.22L210.60,326.27L210.90,326.31L211.20,326.35L211.50,326.40L211.80,326.44L212.10,326.48L212.40,326.53L212.70,326.57L213.00,326.61L213.30,326.66L213.60,326.70L213.90,326.74L214.20,326.79L214.50,326.83L214.80,326.87L215.10,326.90L215.40,326.90L215.70,326.90L216.00,326.90L216.30,326.90L216.60,326.89L216.90,326.89L217.20,326.89L217.50,326.89L217.80,326.89L218.10,326.89L218.40,326.89L218.70,326.89L219.00,326.89L219.30,326.89L219.60,326.88L219.90,326.88L220.20,326.88L220.50,326.88L220.80,326.88L221.10,326.88L221.40,326.88L221.70,326.88L222.00,326.88L222.30,326.88L222.60,326.87L222.90,326.87L223.20,326.87L223.50,326.87L223.80,326.87L224.10,326.87L224.40,326.87L224.70,326.87L225.00,326.87L225.30,326.87L225.60,326.86L225.90,326.86L226.20,326.86L226.50,326.86L226.80,326.86L227.10,326.86L227.40,326.86L227.70,326.86L228.00,326.86L228.30,326.86L228.60,326.85L228.90,326.85L229.20,326.85L229.50,326.85L229.80,326.85L230.10,326.85L230.40,326.85L230.70,326.85L231.00,326.85L231.30,326.85L231.60,326.85L231.90,326.85L232.20,326.85L232.50,326.85L232.80,326.85L233.10,326.85L233.40,326.85L233.70,326.85L234.00,326.85L234.30,326.85L234.60,326.85L234.90,326.85L235.20,326.85L235.50,326.85L235.80,326.85L236.10,326.85L236.40,326.85L236.70,326.85L237.00,326.85L237.30,326.85L237.60,326.85L237.90,326.85L238.20,326.85L238.50,326.85L238.80,326.85L239.10,326.85L239.40,326.85L239.70,326.85L240.00,326.85L240.30,326.85L240.60,326.85L240.90,326.85L241.20,326.85L241.50,326.85L241.80,326.85L242.10,326.85L242.40,326.85L242.70,326.85L243.00,326.85L243.30,326.85L243.60,326.85L243.90,326.85L244.20,326.85L244.50,326.85L244.80,326.85L245.10,326.85L245.40,326.85L245.70,326.85L246.00,326.85L246.30,326.85L246.60,326.85L246.90,326.85L247.20,326.85L247.50,326.85L247.80,326.85L248.10,326.85L248.40,326.85L248.70,326.85L249.00,326.85L249.30,326.85L249.60,326.85L249.90,326.85L250.20,326.85L250.50,326.85L250.80,326.85L251.10,326.85L251.40,326.85L251.70,326.85L252.00,326.85L252.30,326.85L252.60,326.85L252.90,326.85L253.20,326.85L253.50,326.85L253.80,326.85L254.10,326.85L254.40,326.85L254.70,326.85L255.00,326.85L255.30,326.85L255.60,326.85L255.90,326.85L256.20,326.85L256.50,326.85L256.80,326.85L257.10,326.85L257.40,326.85L257.70,326.85L258.00,326.85L258.30,326.85L258.60,326.85L258.90,326.85L259.20,326.85L259.50,326.85L259.80,326.85L260.10,326.85L260.40,326.85L260.70,326.85L261.00,326.85L261.30,326.85L261.60,326.85L261.90,326.85L262.20,326.85L262.50,326.85L262.80,326.85L263.10,326.85L263.40,326.85L263.70,326.85L264.00,326.85L264.30,326.85L264.60,326.85L264.90,326.85L265.20,326.85L265.50,326.85L265.80,326.85L266.10,326.85L266.40,326.85L266.70,326.85L267.00,326.85L267.30,326.85L267.60,326.85L267.90,326.85L268.20,326.85L268.50,326.85L268.80,326.85L269.10,326.85L269.40,326.85L269.70,326.85L270.00,326.85L270.30,326.85L270.60,326.85L270.90,326.85L271.20,326.85L271.50,326.85L271.80,326.85L272.10,326.85L272.40,326.85L272.70,326.85L273.00,326.85L273.30,326.85L273.60,326.85L273.90,326.85L274.20,326.85L274.50,326.85L274.80,326.85L275.10,326.85L275.40,326.85L275.70,326.85L276.00,326.85L276.30,326.85L276.60,326.85L276.90,326.85L277.20,326.85L277.50,326.85L277.80,326.85L278.10,326.85L278.40,326.85L278.70,326.85L279.00,326.85L279.30,326.85L279.60,326.85L279.90,326.85L280.20,326.85L280.50,326.85L280.80,326.85L281.10,326.85L281.40,326.85L281.70,326.85L282.00,326.85L282.30,326.85L282.60,326.85L282.90,326.85L283.20,326.85L283.50,326.85L283.80,326.85L284.10,326.85L284.40,326.85L284.70,326.85L285.00,326.85L285.30,326.85L285.60,326.85L285.90,326.85L286.20,326.85L286.50,326.85L286.80,326.85L287.10,326.85L287.40,326.85L287.70,326.85L288.00,326.85L288.30,326.85L288.60,326.85L288.90,326.85L289.20,326.85L289.50,326.85L289.80,326.85L290.10,326.85L290.40,326.85L290.70,326.85L291.00,326.85L291.30,326.85L291.60,326.85L291.90,326.85L292.20,326.85L292.50,326.85L292.80,326.85L293.10,326.85L293.40,326.85L293.70,326.85L294.00,326.85L294.30,326.85L294.60,326.85L294.90,326.85L295.20,326.85L295.50,326.85L295.80,326.85L296.10,326.85L296.40,326.85L296.70,326.85L297.00,326.85L297.30,326.85L297.60,326.85L297.90,326.85L298.20,326.85L298.50,326.85L298.80,326.85L299.10,326.85L299.40,326.85L299.70,326.85L300.00,326.85L300.30,326.85L300.60,326.85L300.90,326.85L301.20,326.85L301.50,326.85L301.80,326.85L302.10,326.85L302.40,326.85L302.70,326.85L303.00,326.85L303.30,326.85L303.60,326.85L303.90,326.85L304.20,326.85L304.50,326.85L304.80,326.85L305.10,326.85L305.40,326.85L305.70,326.85L306.00,326.85L306.30,326.85L306.60,326.85L306.90,326.85L307.20,326.85L307.50,326.85L307.80,326.85L308.10,326.85L308.40,326.85L308.70,326.85L309.00,326.85L309.30,326.85L309.60,326.85L309.90,326.85L310.20,326.85L310.50,326.85L310.80,326.85L311.10,326.85L311.40,326.85L311.70,326.85L312.00,326.85L312.30,326.85L312.60,326.85L312.90,326.85L313.20,326.85L313.50,326.85L313.80,326.85L314.10,326.85L314.40,326.85L314.70,326.85L315.00,326.85L315.30,326.85L315.60,326.85L315.90,326.85L316.20,326.85L316.50,326.85L316.80,326.85L317.10,326.85L317.40,326.85L317.70,326.85L318.00,326.85L318.30,326.85L318.60,326.85L318.90,326.85L319.20,326.85L319.50,326.85L319.80,326.85L320.10,326.85L320.40,326.85L320.70,326.85L321.00,326.85L321.30,326.85L321.60,326.85L321.90,326.85L322.20,326.85L322.50,326.85L322.80,326.85L323.10,326.85L323.40,326.85L323.70,326.85L324.00,326.85L324.30,326.85L324.60,326.85L324.90,326.85L325.20,326.85L325.50,326.85L325.80,326.85L326.10,326.85L326.40,326.85L326.70,326.85L327.00,326.85L327.30,326.85L327.60,326.85L327.90,326.85L328.20,326.85L328.50,326.85L328.80,326.85L329.10,326.85L329.40,326.85L329.70,326.85L330.00,326.85L330.30,326.85L330.60,326.85L330.90,326.85L331.20,326.85L331.50,326.85L331.80,326.85L332.10,326.85L332.40,326.85L332.70,326.85L333.00,326.85L333.30,326.85L333.60,326.85L333.90,326.85L334.20,326.85L334.50,326.85L334.80,326.85L335.10,326.85L335.40,326.85L335.70,326.85L336.00,326.85L336.30,326.85L336.60,326.85L336.90,326.85L337.20,326.85L337.50,326.85L337.80,326.85L338.10,326.85L338.40,326.85L338.70,326.85L339.00,326.85L339.30,326.85L339.60,326.85L339.90,326.85L340.20,326.85L340.50,326.85L340.80,326.85L341.10,326.85L341.40,326.85L341.70,326.85L342.00,326.85L342.30,326.85L342.60,326.85L342.90,326.85L343.20,326.85L343.50,326.85L343.80,326.85L344.10,326.85L344.40,326.85L344.70,326.85L345.00,326.85L345.30,326.85L345.60,326.85L345.90,326.85L346.20,326.85L346.50,326.85L346.80,326.85L347.10,326.85L347.40,326.85L347.70,326.85L348.00,326.85L348.30,326.85L348.60,326.85L348.90,326.85L349.20,326.85L349.50,326.85L349.80,326.85L350.10,326.85L350.40,326.85L350.70,326.85L351.00,326.85L351.30,326.85L351.60,326.85L351.90,326.85L352.20,326.85L352.50,326.85L352.80,326.85L353.10,326.85L353.40,326.85L353.70,326.85L354.00,326.85L354.30,326.85L354.60,326.85L354.90,326.85L355.20,326.85L355.50,326.85L355.80,326.85L356.10,326.85L356.40,326.85L356.70,326.85L357.00,326.85L357.30,326.85L357.60,326.85L357.90,326.85L358.20,326.85L358.50,326.85L358.80,326.85L359.10,326.85L359.40,326.85L359.70,326.85L360.00,326.85L360.30,326.85L360.60,326.85L360.90,326.85L361.20,326.85L361.50,326.85L361.80,326.85L362.10,326.85L362.40,326.85L362.70,326.85L363.00,326.85L363.30,326.85L363.60,326.85L363.90,326.85L364.20,326.85L364.50,326.85L364.80,326.85L365.10,326.85L365.40,326.85L365.70,326.85L366.00,326.85L366.30,326.85L366.60,326.85L366.90,326.85L367.20,326.85L367.50,326.85L367.80,326.85L368.10,326.85L368.40,326.85L368.70,326.85L369.00,326.85L369.30,326.85L369.60,326.85L369.90,326.85L370.20,326.85L370.50,326.85L370.80,326.85L371.10,326.85L371.40,326.85L371.70,326.85L372.00,326.85L372.30,326.85L372.60,326.85L372.90,326.85L373.20,326.85L373.50,326.85L373.80,326.85L374.10,326.85L374.40,326.85L374.70,326.85L375.00,326.85L375.30,326.85L375.60,326.85L375.90,326.85L376.20,326.85L376.50,326.85L376.80,326.85L377.10,326.85L377.40,326.85L377.70,326.85L378.00,326.85L378.30,326.85L378.60,326.85L378.90,326.85L379.20,326.85L379.50,326.85L379.80,326.85L380.10,326.85L380.40,326.85L380.70,326.85L381.00,326.85L381.30,326.85L381.60,326.85L381.90,326.85L382.20,326.85L382.50,326.85L382.80,326.85L383.10,326.85L383.40,326.85L383.70,326.85L384.00,326.85L384.30,326.85L384.60,326.85L384.90,326.85L385.20,326.85L385.50,326.85L385.80,326.85L386.10,326.85L386.40,326.85L386.70,326.85L387.00,326.85L387.30,326.85L387.60,326.85L387.90,326.85L388.20,326.85L388.50,326.85L388.80,326.85L389.10,326.85L389.40,326.85L389.70,326.85L390.00,326.85L390.30,326.85L390.60,326.85L390.90,326.85L391.20,326.85L391.50,326.85L391.80,326.85L392.10,326.85L392.40,326.85L392.70,326.85L393.00,326.85L393.30,326.85L393.60,326.85L393.90,326.85L394.20,326.85L394.50,326.85L394.80,326.85L395.10,326.85L395.40,326.85L395.70,326.85L396.00,326.85L396.30,326.85L396.60,326.85L396.90,326.85L397.20,326.85L397.50,326.85L397.80,326.85L398.10,326.85L398.40,326.85L398.70,326.85L399.00,326.85L399.30,326.85L399.60,326.85L399.90,326.85L400.20,326.85L400.50,326.85L400.80,326.85L401.10,326.85L401.40,326.85L401.70,326.85L402.00,326.85L402.30,326.85L402.60,326.85L402.90,326.85L403.20,326.85L403.50,326.85L403.80,326.85L404.10,326.85L404.40,326.85L404.70,326.85L405.00,326.85L405.30,326.85L405.60,326.85L405.90,326.85L406.20,326.85L406.50,326.85L406.80,326.85L407.10,326.85L407.40,326.85L407.70,326.85L408.00,326.85L408.30,326.85L408.60,326.85L408.90,326.85L409.20,326.85L409.50,326.85L409.80,326.85L410.10,326.85L410.40,326.85L410.70,326.85L411.00,326.85L411.30,326.85L411.60,326.85L411.90,326.85L412.20,326.85L412.50,326.85L412.80,326.85L413.10,326.85L413.40,326.85L413.70,326.85L414.00,326.85L414.30,326.85L414.60,326.85L414.90,326.85L415.20,326.85L415.50,326.85L415.80,326.85L416.10,326.85L416.40,326.85L416.70,326.85L417.00,326.85L417.30,326.85L417.60,326.85L417.90,326.85L418.20,326.85L418.50,326.85L418.80,326.85L419.10,326.85L419.40,326.85L419.70,326.85L420.00,326.85L420.30,326.85L420.60,326.85L420.90,326.85L421.20,326.85L421.50,326.85L421.80,326.85L422.10,326.85L422.40,326.85L422.70,326.85L423.00,326.85L423.30,326.85L423.60,326.85L423.90,326.85L424.20,326.85L424.50,326.85L424.80,326.85L425.10,326.85L425.40,326.85L425.70,326.85L426.00,326.85L426.30,326.85L426.60,326.85L426.90,326.85L427.20,326.85L427.50,326.85L427.80,326.85L428.10,326.85L428.40,326.85L428.70,326.85L429.00,326.85L429.30,326.85L429.60,326.85L429.90,326.85L430.20,326.85L430.50,326.85L430.80,326.85L431.10,326.85L431.40,326.85L431.70,326.85L432.00,326.85L432.30,326.85L432.60,326.85L432.90,326.85L433.20,326.85L433.50,326.85L433.80,326.85L434.10,326.85L434.40,326.85L434.70,326.85L435.00,326.85L435.30,326.85L435.60,326.85L435.90,326.85L436.20,326.85L436.50,326.85L436.80,326.85L437.10,326.85L437.40,326.85L437.70,326.85L438.00,326.85L438.30,326.85L438.60,326.85L438.90,326.85L439.20,326.85L439.50,326.85L439.80,326.85L440.10,326.85L440.40,326.85L440.70,326.85L441.00,326.85L441.30,326.85L441.60,326.85L441.90,326.85L442.20,326.85L442.50,326.85L442.80,326.85L443.10,326.85L443.40,326.85L443.70,326.85L444.00,326.85L444.30,326.85L444.60,326.85L444.90,326.85L445.20,326.85L445.50,326.85L445.80,326.85L446.10,326.85L446.40,326.85L446.70,326.85L447.00,326.85L447.30,326.85L447.60,326.85L447.90,326.85L448.20,326.85L448.50,326.85L448.80,326.85L449.10,326.85L449.40,326.85L449.70,326.85L450.00,326.85L450.30,326.85L450.60,326.85L450.90,326.85L451.20,326.85L451.50,326.85L451.80,326.85L452.10,326.85L452.40,326.85L452.70,326.85L453.00,326.85L453.30,326.85L453.60,326.85L453.90,326.85L454.20,326.85L454.50,326.85L454.80,326.85L455.10,326.85L455.40,326.85L455.70,326.85L456.00,326.85L456.30,326.85L456.60,326.85L456.90,326.85L457.20,326.85L457.50,326.85L457.80,326.85L458.10,326.85L458.40,326.85L458.70,326.85L459.00,326.85L459.30,326.85L459.60,326.85L459.90,326.85L460.20,326.85L460.50,326.85L460.80,326.85L461.10,326.85L461.40,326.85L461.70,326.85L462.00,326.85L462.30,326.85L462.60,326.85L462.90,326.85L463.20,326.85L463.50,326.85L463.80,326.85L464.10,326.85L464.40,326.85L464.70,326.85L465.00,326.85L465.30,326.85L465.60,326.85L465.90,326.85L466.20,326.85L466.50,326.85L466.80,326.85L467.10,326.85L467.40,326.85L467.70,326.85L468.00,326.85L468.30,326.85L468.60,326.85L468.90,326.85L469.20,326.85L469.50,326.85L469.80,326.85L470.10,326.85L470.40,326.85L470.70,326.85L471.00,326.85L471.30,326.85L471.60,326.85L471.90,326.85L472.20,326.85L472.50,326.85L472.80,326.85L473.10,326.85L473.40,326.85L473.70,326.85L474.00,326.85L474.30,326.85L474.60,326.85L474.90,326.85L475.20,326.85L475.50,326.85L475.80,326.85L476.10,326.85L476.40,326.85L476.70,326.85L477.00,326.85L477.30,326.85L477.60,326.85L477.90,326.85L478.20,326.85L478.50,326.85L478.80,326.85L479.10,326.85L479.40,326.85L479.70,326.85L480.00,326.85L480.30,326.85L480.60,326.85L480.90,326.85L481.20,326.85L481.50,326.85L481.80,326.85L482.10,326.85L482.40,326.85L482.70,326.85L483.00,326.85L483.30,326.85L483.60,326.85L483.90,326.85L484.20,326.85L484.50,326.85L484.80,326.85L485.10,326.85L485.40,326.85L485.70,326.85L486.00,326.85L486.30,326.85L486.60,326.85L486.90,326.85L487.20,326.85L487.50,326.85L487.80,326.85L488.10,326.85L488.40,326.85L488.70,326.85L489.00,326.85L489.30,326.85L489.60,326.85L489.90,326.85L490.20,326.85L490.50,326.85L490.80,326.85L491.10,326.85L491.40,326.85L491.70,326.85L492.00,326.85L492.30,326.85L492.60,326.85L492.90,326.85L493.20,326.85L493.50,326.85L493.80,326.85L494.10,326.85L494.40,326.85L494.70,326.85L495.00,326.85L495.30,326.85L495.60,326.85L495.90,326.85L496.20,326.85L496.50,326.85L496.80,326.85L497.10,326.85L497.40,326.85L497.70,326.85L498.00,326.85L498.30,326.85L498.60,326.85L498.90,326.85L499.20,326.85L499.50,326.85L499.80,326.85L500.10,326.85L500.40,326.85L500.70,326.85L501.00,326.85L501.30,326.85L501.60,326.85L501.90,326.85L502.20,326.85L502.50,326.85L502.80,326.85L503.10,326.85L503.40,326.85L503.70,326.85L504.00,326.85L504.30,326.85L504.60,326.85L504.90,326.85L505.20,326.85L505.50,326.85L505.80,326.85L506.10,326.85L506.40,326.85L506.70,326.85L507.00,326.85L507.30,326.85L507.60,326.85L507.90,326.85L508.20,326.85L508.50,326.85L508.80,326.85L509.10,326.85L509.40,326.85L509.70,326.85L510.00,326.85L510.30,326.85L510.60,326.85L510.90,326.85L511.20,326.85L511.50,326.85L511.80,326.85L512.10,326.85L512.40,326.85L512.70,326.85L513.00,326.85L513.30,326.85L513.60,326.85L513.90,326.85L514.20,326.85L514.50,326.85L514.80,326.85L515.10,326.85L515.40,326.85L515.70,326.85L516.00,326.85L516.30,326.85L516.60,326.85L516.90,326.85L517.20,326.85L517.50,326.85L517.80,326.85L518.10,326.85L518.40,326.85L518.70,326.85L519.00,326.85L519.30,326.85L519.60,326.85L519.90,326.85L520.20,326.85L520.50,326.85L520.80,326.85L521.10,326.85L521.40,326.85" stroke="#ec1a20" stroke-width="2.3" fill="none" stroke-linejoin="round"/>
<path d="M60.00,317.65L61.50,316.34L63.00,318.03L64.50,314.04L66.00,318.19L67.50,316.33L69.00,318.47L69.90,316.49L71.10,317.71L72.30,316.02L74.10,319.77L75.30,315.79L77.10,319.73L78.60,317.16L80.40,316.58L82.20,314.28L83.70,319.28L85.50,315.10L87.00,317.73L88.20,315.96L89.70,316.45L90.60,312.65L91.50,314.57L93.00,313.17L93.90,313.22L95.10,309.10L96.90,314.78L98.40,312.15L99.90,313.58L101.70,308.24L102.60,312.87L103.50,311.57L105.00,310.06L106.50,310.04L107.40,311.56L108.30,311.56L109.50,312.41L111.00,307.48L112.50,308.97L114.00,307.33L114.90,308.24L116.70,306.79L117.90,307.14L118.80,303.08L120.00,305.63L120.90,301.28L121.80,306.48L122.70,305.04L124.20,305.68L126.00,303.85L127.50,301.91L128.70,299.04L130.20,298.79L131.70,294.28L133.50,301.56L134.70,293.59L135.60,300.63L137.40,295.20L139.20,297.33L140.40,288.88L142.20,292.90L144.00,290.60L145.80,289.88L147.30,285.14L148.80,285.11L150.00,279.60L151.20,281.00L152.70,274.05L153.60,280.50L155.10,279.00L156.00,280.25L157.50,276.91L159.30,277.69L161.10,274.62L162.90,276.29L164.10,271.38L165.60,275.50L166.50,272.14L168.30,274.33L169.50,275.05L171.00,276.17L172.80,273.48L173.70,276.73L175.20,274.89L176.70,276.52L178.20,268.50L179.70,272.23L181.50,264.50L182.40,269.63L183.90,269.12L185.10,269.89L186.60,267.66L187.80,273.25L189.00,271.68L190.50,277.96L192.30,275.54L193.80,280.61L195.30,283.91L196.20,289.72L197.10,292.90L197.10,297.53L196.20,294.29L195.30,290.51L193.80,289.30L192.30,286.95L190.50,289.15L189.00,285.05L187.80,284.16L186.60,282.96L185.10,286.53L183.90,284.04L182.40,284.60L181.50,282.67L179.70,286.21L178.20,286.92L176.70,289.10L175.20,288.16L173.70,289.58L172.80,287.21L171.00,289.24L169.50,288.67L168.30,287.67L166.50,288.37L165.60,288.46L164.10,289.47L162.90,289.67L161.10,291.50L159.30,294.61L157.50,292.69L156.00,298.43L155.10,295.92L153.60,299.87L152.70,297.58L151.20,303.69L150.00,299.77L148.80,306.78L147.30,304.47L145.80,308.61L144.00,313.83L142.20,321.45L140.40,315.21L139.20,324.69L137.40,318.04L135.60,323.22L134.70,320.11L133.50,325.34L131.70,319.22L130.20,320.32L128.70,316.58L127.50,321.18L126.00,320.15L124.20,330.17L122.70,323.66L121.80,325.33L120.90,322.68L120.00,325.44L118.80,321.85L117.90,326.89L116.70,320.88L114.90,326.26L114.00,320.51L112.50,325.52L111.00,320.36L109.50,323.73L108.30,322.70L107.40,324.35L106.50,322.23L105.00,325.16L103.50,323.40L102.60,325.50L101.70,324.74L99.90,326.10L98.40,326.58L96.90,328.42L95.10,325.06L93.90,326.70L93.00,324.98L91.50,327.44L90.60,326.02L89.70,329.36L88.20,327.21L87.00,327.93L85.50,326.76L83.70,329.53L82.20,326.72L80.40,328.67L78.60,328.43L77.10,332.35L75.30,327.95L74.10,331.53L72.30,327.72L71.10,329.61L69.90,327.69L69.00,330.78L67.50,327.11L66.00,327.74L64.50,325.99L63.00,330.14L61.50,326.80L60.00,327.38Z" fill="#ec1a20" stroke="#ec1a20" stroke-width="0.8" stroke-linejoin="miter"/>
<path d="M59.21,460.11L59.51,466.91L59.81,460.34L60.11,467.24L60.41,459.03L60.71,467.26L61.01,457.57L61.31,467.58L61.61,457.46L61.91,467.80L62.21,457.80L62.51,467.26L62.81,457.69L63.11,466.66L63.41,457.18L63.71,466.42L64.01,456.87L64.31,466.60L64.61,457.36L64.91,466.95L65.21,458.25L65.51,467.12L65.81,458.76L66.11,467.17L66.41,458.51L66.71,467.11L67.01,457.56L67.31,466.88L67.61,456.66L67.91,466.60L68.21,456.47L68.51,466.27L68.81,456.77L69.11,465.88L69.41,457.16L69.71,465.26L70.01,457.33L70.31,464.84L70.61,457.55L70.91,465.36L71.21,458.15L71.51,466.18L71.81,458.49L72.11,466.20L72.41,458.42L72.71,465.92L73.01,458.27L73.31,465.87L73.61,458.03L73.91,466.09L74.21,457.81L74.51,466.16L74.81,457.73L75.11,466.07L75.41,458.16L75.71,466.14L76.01,458.96L76.31,466.39L76.61,459.77L76.91,466.50L77.21,459.62L77.51,465.98L77.81,458.77L78.11,465.42L78.41,458.45L78.71,465.10L79.01,458.88L79.31,465.12L79.61,459.57L79.91,465.44L80.21,459.66L80.51,465.41L80.81,458.78L81.11,464.95L81.41,458.16L81.71,465.06L82.01,458.51L82.31,465.65L82.61,458.88L82.91,466.24L83.21,458.96L83.51,467.12L83.81,459.31L84.11,468.13L84.41,459.99L84.71,468.44L85.01,460.58L85.31,467.88L85.61,461.20L85.91,467.45L86.21,461.68L86.51,467.39L86.81,462.04L87.11,468.16L87.41,462.92L87.71,469.33L88.01,463.93L88.31,470.13L88.61,464.83L88.91,469.97L89.21,464.00L89.51,469.14L89.81,462.75L90.11,468.30L90.41,460.84L90.71,466.83L91.01,458.66L91.31,465.03L91.61,457.04L91.91,463.67L92.21,456.38L92.51,462.80L92.81,455.98L93.11,462.08L93.41,456.08L93.71,462.16L94.01,456.45L94.31,462.44L94.61,456.21L94.91,461.84L95.21,455.14L95.51,460.99L95.81,454.47L96.11,460.94L96.41,454.55L96.71,460.97L97.01,453.90L97.31,460.12L97.61,452.54L97.91,459.74L98.21,452.16L98.51,460.26L98.81,452.33L99.11,460.19L99.41,452.41L99.71,459.82L100.01,452.58L100.31,459.38L100.61,452.34L100.91,458.98L101.21,451.99L101.51,458.55L101.81,451.54L102.11,457.74L102.41,451.17L102.71,457.24L103.01,450.90L103.31,457.15L103.61,450.39L103.91,457.19L104.21,450.13L104.51,457.36L104.81,450.22L105.11,457.20L105.41,449.98L105.71,456.58L106.01,449.31L106.31,456.00L106.61,448.71L106.91,455.86L107.21,448.48L107.51,455.87L107.81,448.28L108.11,455.79L108.41,447.78L108.71,455.90L109.01,447.04L109.31,456.38L109.61,446.40L109.91,456.72L110.21,445.60L110.51,456.66L110.81,444.66L111.11,456.75L111.41,443.58L111.71,457.08L112.01,442.33L112.31,457.47L112.61,441.86L112.91,460.12L113.21,442.90L113.51,463.20L113.81,443.49L114.11,464.96L114.41,443.81L114.71,464.26L115.01,444.47L115.31,463.07L115.61,444.86L115.91,461.87L116.21,445.17L116.51,460.62L116.81,445.67L117.11,460.10L117.41,446.62L117.71,460.01L118.01,447.52L118.31,460.44L118.61,448.13L118.91,461.22L119.21,448.57L119.51,462.08L119.81,449.14L120.11,463.01L120.41,449.94L120.71,464.11L121.01,450.74L121.31,465.23L121.61,451.24L121.91,466.47L122.21,451.70L122.51,467.03L122.81,449.11L123.11,465.57L123.41,446.24L123.71,463.11L124.01,443.33L124.31,460.04L124.61,440.18L124.91,457.46L125.21,436.98L125.51,455.29L125.81,434.93L126.11,452.84L126.41,433.49L126.71,450.26L127.01,433.05L127.31,447.89L127.61,432.27L127.91,445.65L128.21,430.37L128.51,443.57L128.81,428.01L129.11,441.42L129.41,426.56L129.71,441.05L130.01,427.33L130.31,441.10L130.61,427.77L130.91,441.00L131.21,427.87L131.51,441.69L131.81,428.31L132.11,443.53L132.41,429.68L132.71,446.19L133.01,431.60L133.31,448.54L133.61,432.37L133.91,450.15L134.21,431.06L134.51,451.21L134.81,428.39L135.11,451.39L135.41,425.11L135.71,451.39L136.01,422.55L136.31,451.70L136.61,421.13L136.91,449.88L137.21,421.04L137.51,448.18L137.81,421.23L138.11,446.71L138.41,422.03L138.71,445.38L139.01,422.60L139.31,444.85L139.61,422.38L139.91,444.26L140.21,421.94L140.51,442.86L140.81,422.09L141.11,441.52L141.41,422.27L141.71,439.94L142.01,421.05L142.31,437.63L142.61,418.67L142.91,435.05L143.21,416.49L143.51,432.98L143.81,415.24L144.11,431.21L144.41,413.91L144.71,429.07L145.01,413.34L145.31,428.74L145.61,412.87L145.91,429.71L146.21,412.63L146.51,430.08L146.81,411.86L147.11,428.66L147.41,410.63L147.71,426.62L148.01,410.10L148.31,425.00L148.61,409.82L148.91,423.18L149.21,408.64L149.51,421.12L149.81,406.67L150.11,419.44L150.41,404.56L150.71,417.82L151.01,402.74L151.31,416.18L151.61,401.88L151.91,415.14L152.21,401.60L152.51,414.71L152.81,400.41L153.11,414.20L153.41,398.10L153.71,413.28L154.01,395.94L154.31,412.01L154.61,394.82L154.91,410.67L155.21,394.78L155.51,410.00L155.81,395.54L156.11,409.29L156.41,396.08L156.71,408.07L157.01,395.91L157.31,406.75L157.61,395.02L157.91,405.98L158.21,393.46L158.51,406.16L158.81,392.25L159.11,406.97L159.41,392.40L159.71,407.34L160.01,393.14L160.31,406.65L160.61,393.21L160.91,405.39L161.21,392.34L161.51,404.31L161.81,391.04L162.11,403.46L162.41,390.20L162.71,402.57L163.01,390.09L163.31,401.41L163.61,390.39L163.91,400.32L164.21,390.75L164.51,399.51L164.81,390.61L165.11,399.13L165.41,390.13L165.71,399.40L166.01,389.88L166.31,399.96L166.61,390.05L166.91,399.91L167.21,390.57L167.51,399.10L167.81,390.99L168.11,397.94L168.41,390.57L168.71,396.67L169.01,389.43L169.31,395.52L169.61,388.77L169.91,395.26L170.21,388.33L170.51,395.20L170.81,387.50L171.11,394.85L171.41,386.55L171.71,395.05L172.01,386.39L172.31,396.11L172.61,387.44L172.91,397.45L173.21,389.39L173.51,398.21L173.81,389.91L174.11,398.05L174.41,389.74L174.71,397.53L175.01,388.47L175.31,397.28L175.61,386.87L175.91,397.46L176.21,385.80L176.51,398.08L176.81,385.50L177.11,398.65L177.41,385.52L177.71,397.89L178.01,385.55L178.31,396.21L178.61,385.56L178.91,394.53L179.21,385.46L179.51,392.91L179.81,386.05L180.11,392.14L180.41,385.68L180.71,391.70L181.01,384.00L181.31,390.49L181.61,382.42L181.91,390.07L182.21,381.08L182.51,390.18L182.81,379.99L183.11,390.55L183.41,379.50L183.71,390.66L184.01,379.19L184.31,390.39L184.61,379.30L184.91,390.26L185.21,379.69L185.51,390.11L185.81,380.17L186.11,390.22L186.41,380.92L186.71,390.76L187.01,382.09L187.31,391.57L187.61,383.50L187.91,391.81L188.21,384.58L188.51,391.38L188.81,384.91L189.11,391.59L189.41,385.07L189.71,392.38L190.01,385.56L190.31,393.68L190.61,386.70L190.91,395.79L191.21,388.66L191.51,398.33L191.81,390.58L192.11,400.53L192.41,392.04L192.71,402.44L193.01,392.84L193.31,404.84L193.61,393.08L193.91,407.02L194.21,392.90L194.51,408.21L194.81,392.71L195.11,408.85L195.41,392.89L195.71,407.31L196.01,390.09L196.31,403.36L196.61,387.32L196.91,399.72L197.21,385.08L197.51,395.96L197.81,383.26L198.11,391.38L198.41,382.30L198.71,390.45L199.01,381.84L199.31,390.20L199.61,381.26L199.91,389.77L200.21,380.24L200.51,389.05L200.81,378.88L201.11,388.50L201.41,378.85L201.71,388.89L202.01,380.00L202.31,389.46L202.61,381.44L202.91,390.01L203.21,382.64L203.51,390.00L203.81,383.10L204.11,389.67L204.41,383.45L204.71,389.87L205.01,384.01L205.31,390.08L205.61,384.71L205.91,390.81L206.21,386.08L206.51,392.08L206.81,388.14L207.11,393.77L207.41,389.54L207.71,396.34L208.01,391.65L208.31,401.22L208.61,395.51L208.91,408.42L209.21,401.43L209.51,415.13L209.81,407.42L210.11,420.79L210.41,413.35L210.71,426.09L211.01,419.21L211.31,431.24L211.61,424.70L211.91,436.51L212.21,430.14L212.51,442.67L212.81,435.59L213.11,449.08L213.41,441.30L213.71,453.98L214.01,446.69L214.31,458.18L214.61,452.45L214.91,461.50L215.21,459.44L215.51,465.74L215.81,465.30L216.11,468.22L216.41,467.89L216.71,468.48L217.01,465.72L217.31,466.09L217.61,458.73L217.91,459.96L218.21,449.00L218.51,453.60L218.81,439.40L219.11,445.84L219.41,430.53L219.71,436.57L220.01,421.09L220.31,426.27L220.61,410.01L220.91,414.37L221.21,399.06L221.51,402.78L221.81,390.11L222.11,395.26L222.41,387.32L222.71,390.93L223.01,385.43L223.31,389.60L223.61,384.72L223.91,388.66L224.21,382.99L224.51,387.57L224.81,382.43L225.11,387.97L225.41,383.29L225.71,388.79L226.01,384.16L226.31,388.92L226.61,383.40L226.91,387.50L227.21,381.44L227.51,386.21L227.81,379.57L228.11,385.69L228.41,377.93L228.71,385.19L229.01,375.86L229.31,383.82L229.61,373.40L229.91,382.04L230.21,371.49L230.51,380.45L230.81,369.88L231.11,378.76L231.41,368.24L231.71,377.28L232.01,366.95L232.31,375.69L232.61,365.37L232.91,373.37L233.21,363.19L233.51,371.36L233.81,361.71L234.11,370.59L234.41,360.76L234.71,369.66L235.01,359.08L235.31,368.06L235.61,356.86L235.91,366.40L236.21,355.31L236.51,365.04L236.81,354.52L237.11,363.60L237.41,353.71L237.71,361.96L238.01,354.20L238.31,361.59L238.61,354.98L238.91,361.85L239.21,355.89L239.51,362.41L239.81,356.98L240.11,362.90L240.41,358.12L240.71,363.44L241.01,358.84L241.31,364.08L241.61,358.93L241.91,364.63L242.21,358.71L242.51,365.02L242.81,358.33L243.11,365.05L243.41,358.21L243.71,365.52L244.01,358.95L244.31,366.44L244.61,360.55L244.91,367.59L245.21,362.53L245.51,368.36L245.81,363.82L246.11,369.11L246.41,364.46L246.71,370.31L247.01,365.22L247.31,371.95L247.61,366.69L247.91,373.99L248.21,368.64L248.51,375.92L248.81,370.96L249.11,378.68L249.41,374.09L249.71,381.17L250.01,376.97L250.31,383.30L250.61,379.47L250.91,385.00L251.21,381.33L251.51,386.57L251.81,382.29L252.11,387.34L252.41,383.12L252.71,388.33L253.01,384.06L253.31,388.87L253.61,384.50L253.91,389.17L254.21,384.35L254.51,389.01L254.81,383.63L255.11,388.43L255.41,383.30L255.71,388.26L256.01,383.75L256.31,388.81L256.61,384.36L256.91,389.18L257.21,384.11L257.51,389.12L257.81,383.75L258.11,389.27L258.41,383.82L258.71,389.71L259.01,384.21L259.31,390.21L259.61,384.28L259.91,390.24L260.21,382.43L260.51,387.19L260.81,379.53L261.11,384.90L261.41,377.40L261.71,383.03L262.01,375.39L262.31,380.70L262.61,373.01L262.91,378.44L263.21,371.65L263.51,377.31L263.81,371.01L264.11,376.77L264.41,371.58L264.71,377.39L265.01,372.84L265.31,377.80L265.61,373.13L265.91,377.45L266.21,372.91L266.51,376.92L266.81,372.21L267.11,375.85L267.41,370.92L267.71,374.90L268.01,370.67L268.31,375.50L268.61,372.49L268.91,377.24L269.21,374.36L269.51,377.74L269.81,374.36L270.11,377.25L270.41,374.07L270.71,377.33L271.01,374.15L271.31,377.71L271.61,373.80L271.91,377.71L272.21,372.37L272.51,377.15L272.81,371.20L273.11,377.27L273.41,371.45L273.71,377.32L274.01,372.23L274.31,377.65L274.61,374.15L274.91,378.58L275.21,376.29L275.51,380.59L275.81,379.53L276.11,383.67L276.41,382.54L276.71,385.60L277.01,382.56L277.31,384.45L277.61,381.21L277.91,383.95L278.21,380.68L278.51,383.85L278.81,380.50L279.11,383.96L279.41,380.60L279.71,383.76L280.01,379.56L280.31,382.42L280.61,378.03L280.91,380.88L281.21,376.99L281.51,379.75L281.81,376.54L282.11,379.02L282.41,376.19L282.71,378.46L283.01,375.16L283.31,377.49L283.61,373.04L283.91,376.06L284.21,370.97L284.51,375.11L284.81,369.38L285.11,373.71L285.41,367.79L285.71,372.49L286.01,367.25L286.31,372.00L286.61,367.01L286.91,371.37L287.21,366.31L287.51,370.32L287.81,365.12L288.11,368.78L288.41,363.67L288.71,367.36L289.01,362.74L289.31,366.44L289.61,362.49L289.91,366.27L290.21,362.53L290.51,366.09L290.81,362.67L291.11,366.79L291.41,363.82L291.71,367.97L292.01,364.75L292.31,368.79L292.61,365.27L292.91,369.08L293.21,365.61L293.51,368.91L293.81,365.32L294.11,368.05L294.41,364.30L294.71,366.97L295.01,363.40L295.31,366.33L295.61,362.83L295.91,366.07L296.21,362.84L296.51,366.58L296.81,363.96L297.11,368.14L297.41,366.08L297.71,370.08L298.01,367.98L298.31,371.28L298.61,368.20L298.91,370.95L299.21,367.52L299.51,370.88L299.81,367.82L300.11,371.54L300.41,368.48L300.71,372.09L301.01,369.05L301.31,373.01L301.61,370.07L301.91,374.63L302.21,371.36L302.51,376.18L302.81,371.71L303.11,376.46L303.41,371.43L303.71,376.59L304.01,371.60L304.31,377.09L304.61,372.27L304.91,377.17L305.21,371.50L305.51,375.07L305.81,370.01L306.11,373.39L306.41,369.25L306.71,372.69L307.01,368.85L307.31,371.82L307.61,368.22L307.91,371.24L308.21,368.14L308.51,370.94L308.81,367.31L309.11,369.82L309.41,365.33L309.71,368.22L310.01,363.59L310.31,367.39L310.61,362.96L310.91,366.68L311.21,362.19L311.51,365.62L311.81,361.50L312.11,365.05L312.41,360.92L312.71,364.35L313.01,359.79L313.31,363.24L313.61,359.14L313.91,362.77L314.21,359.42L314.51,362.89L314.81,360.10L315.11,363.31L315.41,360.53L315.71,363.74L316.01,360.88L316.31,364.43L316.61,361.26L316.91,364.77L317.21,361.03L317.51,364.67L317.81,360.85L318.11,364.86L318.41,360.65L318.71,364.80L319.01,360.32L319.31,363.86L319.61,359.42L319.91,363.03L320.21,358.67L320.51,362.65L320.81,358.43L321.11,363.08L321.41,362.68L321.71,373.19L322.01,367.44L322.31,367.82L322.61,360.35L322.91,363.94L323.21,360.33L323.51,363.45L323.81,359.87L324.11,363.00L324.41,359.67L324.71,363.01L325.01,359.50L325.31,362.91L325.61,359.56L325.91,362.89L326.21,359.86L326.51,363.06L326.81,360.06L327.11,363.50L327.41,359.95L327.71,363.67L328.01,359.17L328.31,363.30L328.61,358.70L328.91,363.40L329.21,359.36L329.51,364.11L329.81,360.54L330.11,364.85L330.41,361.32L330.71,365.11L331.01,361.68L331.31,365.46L331.61,361.90L331.91,365.77L332.21,361.66L332.51,365.71L332.81,361.46L333.11,366.02L333.41,361.61L333.71,365.97L334.01,361.42L334.31,365.24L334.61,360.04L334.91,363.83L335.21,358.84L335.51,362.99L335.81,358.31L336.11,362.54L336.41,357.72L336.71,361.55L337.01,356.88L337.31,360.45L337.61,356.67L337.91,360.09L338.21,357.14L338.51,360.30L338.81,357.79L339.11,360.73L339.41,358.00L339.71,360.51L340.01,356.90L340.31,359.66L340.61,355.65L340.91,358.98L341.21,354.90L341.51,358.75L341.81,354.84L342.11,358.87L342.41,354.06L342.71,354.55L343.01,356.78L343.31,366.68L343.61,372.07L343.91,376.99L344.21,376.46L344.51,380.74L344.81,380.17L345.11,384.22L345.41,381.95L345.71,384.70L346.01,382.90L346.31,385.53L346.61,383.67L346.91,385.88L347.21,383.91L347.51,385.84L347.81,383.39L348.11,384.98L348.41,382.53L348.71,384.32L349.01,382.61L349.31,384.95L349.61,383.75L349.91,386.32L350.21,385.18L350.51,387.87L350.81,386.62L351.11,389.31L351.41,387.92L351.71,390.24L352.01,388.77L352.31,390.90L352.61,389.72L352.91,392.00L353.21,391.01L353.51,393.33L353.81,392.16L354.11,394.44L354.41,392.89L354.71,394.85L355.01,392.56L355.31,394.14L355.61,391.82L355.91,393.74L356.21,392.16L356.51,394.83L356.81,393.94L357.11,397.00L357.41,396.19L357.71,399.12L358.01,397.81L358.31,400.25L358.61,398.39L358.91,400.76L359.21,399.04L359.51,402.31L359.81,400.81L360.11,404.26L360.41,402.50L360.71,405.75L361.01,403.70L361.31,409.88L361.61,411.33L361.91,418.41L362.21,418.82L362.51,417.88L362.81,411.32L363.11,409.80L363.41,403.95L363.71,405.26L364.01,401.96L364.31,405.04L364.61,402.93L364.91,406.41L365.21,404.18L365.51,407.30L365.81,404.89L366.11,408.03L366.41,405.92L366.71,409.01L367.01,407.15L367.31,410.11L367.61,408.56L367.91,411.47L368.21,409.99L368.51,412.55L368.81,410.84L369.11,413.53L369.41,412.03L369.71,415.06L370.01,413.56L370.31,417.10L370.61,415.81L370.91,419.61L371.21,418.27L371.51,421.56L371.81,420.36L372.11,423.95L372.41,423.45L372.71,426.88L373.01,426.58L373.31,429.80L373.61,429.58L373.91,432.99L374.21,433.59L374.51,437.82L374.81,438.10L375.11,442.03L375.41,441.74L375.71,443.62L376.01,437.51L376.31,435.67L376.61,429.66L376.91,427.77L377.21,421.51L377.51,420.58L377.81,415.87L378.11,416.10L378.41,412.03L378.71,412.84L379.01,408.82L379.31,409.39L379.61,406.50L379.91,407.73L380.21,404.86L380.51,406.17L380.81,404.82L381.11,408.80L381.41,408.62L381.71,412.60L382.01,412.73L382.31,416.83L382.61,416.74L382.91,420.01L383.21,419.62L383.51,422.76L383.81,422.16L384.11,425.31L384.41,424.35L384.71,427.45L385.01,426.09L385.31,429.58L385.61,428.11L385.91,431.80L386.21,429.66L386.51,433.69L386.81,431.85L387.11,435.61L387.41,433.36L387.71,437.26L388.01,435.20L388.31,438.45L388.61,435.01L388.91,434.16L389.21,428.61L389.51,427.30L389.81,421.75L390.11,421.46L390.41,418.25L390.71,418.87L391.01,416.19L391.31,417.62L391.61,415.09L391.91,416.71L392.21,414.08L392.51,415.93L392.81,412.88L393.11,414.58L393.41,411.66L393.71,413.35L394.01,410.81L394.31,412.54L394.61,410.28L394.91,412.17L395.21,410.04L395.51,412.14L395.81,409.92L396.11,412.31L396.41,410.23L396.71,412.75L397.01,410.64L397.31,412.61L397.61,410.43L397.91,411.66L398.21,409.76L398.51,410.81L398.81,409.23L399.11,410.21L399.41,408.44L399.71,409.47L400.01,407.92L400.31,409.30L400.61,407.46L400.91,408.15L401.21,405.33L401.51,405.83L401.81,403.33L402.11,404.98L402.41,403.47L402.71,405.81L403.01,404.51L403.31,406.45L403.61,404.86L403.91,406.32L404.21,404.85L404.51,406.56L404.81,404.75L405.11,406.43L405.41,404.45L405.71,406.41L406.01,404.68L406.31,407.02L406.61,405.66L406.91,408.53L407.21,407.93L407.51,411.02L407.81,410.32L408.11,413.29L408.41,412.31L408.71,415.06L409.01,414.42L409.31,417.29L409.61,416.72L409.91,419.33L410.21,419.13L410.51,421.62L410.81,421.76L411.11,424.51L411.41,425.31L411.71,428.47L412.01,429.42L412.31,432.41L412.61,432.91L412.91,435.33L413.21,435.55L413.51,437.83L413.81,438.50L414.11,441.17L414.41,442.30L414.71,444.77L415.01,445.78L415.31,447.72L415.61,448.38L415.91,450.10L416.21,450.93L416.51,452.80L416.81,453.90L417.11,455.82L417.41,456.47L417.71,457.70L418.01,458.29L418.31,459.28L418.61,459.77L418.91,460.57L419.21,461.10L419.51,461.71L419.81,462.06L420.11,462.53L420.41,462.95L420.71,463.40L421.01,463.85L421.31,464.30L421.61,464.75L421.91,465.20L422.21,465.60L422.51,465.76L422.81,465.92L423.11,466.08L423.41,466.24L423.71,466.40L424.01,466.56L424.31,466.72L424.61,466.88L424.91,467.04L425.21,467.20L425.51,467.36L425.81,467.52L426.11,467.68L426.41,467.82L426.71,467.88L427.01,467.94L427.31,468.00L427.61,468.06L427.91,468.12L428.21,468.18L428.51,468.24L428.81,468.30L429.11,468.36L429.41,468.42L429.71,468.48L430.01,468.54L430.31,468.60L430.61,468.66L430.91,468.72L431.21,468.78L431.51,468.84L431.81,468.90L432.11,468.94L432.41,468.95L432.71,468.96L433.01,468.98L433.31,468.99L433.61,469.00L433.91,469.01L434.21,469.02L434.51,469.04L434.81,469.05L435.11,469.06L435.41,469.07L435.71,469.08L436.01,469.10L436.31,469.11L436.61,469.12L436.91,469.13L437.21,469.14L437.51,469.16L437.81,469.17L438.11,469.18L438.41,469.19L438.71,469.20L439.01,469.22L439.31,469.22L439.61,469.22L439.91,469.23L440.21,469.23L440.51,469.24L440.81,469.24L441.11,469.24L441.41,469.25L441.71,469.25L442.01,469.26L442.31,469.26L442.61,469.26L442.91,469.27L443.21,469.27L443.51,469.28L443.81,469.28L444.11,469.28L444.41,469.29L444.71,469.29L445.01,469.30L445.31,469.30L445.61,469.30L445.91,469.31L446.21,469.31L446.51,469.32L446.81,469.32L447.11,469.32L447.41,469.33L447.71,469.33L448.01,469.34L448.31,469.34L448.61,469.34L448.91,469.35L449.21,469.35L449.51,469.36L449.81,469.36L450.11,469.36L450.41,469.37L450.71,469.37L451.01,469.38L451.31,469.38L451.61,469.38L451.91,469.39L452.21,469.39L452.51,469.40L452.81,469.40L453.11,469.40L453.41,469.41L453.71,469.41L454.01,469.42L454.31,469.42L454.61,469.42L454.91,469.43L455.21,469.43L455.51,469.44L455.81,469.44L456.11,469.44L456.41,469.45L456.71,469.45L457.01,469.46L457.31,469.46L457.61,469.46L457.91,469.47L458.21,469.47L458.51,469.48L458.81,469.48L459.11,469.48L459.41,469.49L459.71,469.49L460.01,469.50L460.31,469.50L460.61,469.50L460.91,469.50L461.21,469.50L461.51,469.50L461.81,469.50L462.11,469.50L462.41,469.50L462.71,469.50L463.01,469.50L463.31,469.50L463.61,469.50L463.91,469.50L464.21,469.50L464.51,469.50L464.81,469.50L465.11,469.50L465.41,469.50L465.71,469.50L466.01,469.50L466.31,469.50L466.61,469.50L466.91,469.50L467.21,469.50L467.51,469.50L467.81,469.50L468.11,469.50L468.41,469.50L468.71,469.50L469.01,469.50L469.31,469.50L469.61,469.50L469.91,469.50L470.21,469.50L470.51,469.50L470.81,469.50L471.11,469.50L471.41,469.50L471.71,469.50L472.01,469.50L472.31,469.50L472.61,469.51L472.91,469.51L473.21,469.51L473.51,469.51L473.81,469.51L474.11,469.51L474.41,469.51L474.71,469.51L475.01,469.51L475.31,469.51L475.61,469.51L475.91,469.51L476.21,469.51L476.51,469.51L476.81,469.51L477.11,469.51L477.41,469.51L477.71,469.52L478.01,469.52L478.31,469.52L478.61,469.52L478.91,469.52L479.21,469.52L479.51,469.52L479.81,469.52L480.11,469.52L480.41,469.52L480.71,469.52L481.01,469.52L481.31,469.52L481.61,469.52L481.91,469.52L482.21,469.52L482.51,469.52L482.81,469.53L483.11,469.53L483.41,469.53L483.71,469.53L484.01,469.53L484.31,469.53L484.61,469.53L484.91,469.53L485.21,469.53L485.51,469.53L485.81,469.53L486.11,469.53L486.41,469.53L486.71,469.53L487.01,469.53L487.31,469.53L487.61,469.53L487.91,469.54L488.21,469.54L488.51,469.54L488.81,469.54L489.11,469.54L489.41,469.54L489.71,469.54L490.01,469.54L490.31,469.54L490.61,469.54L490.91,469.54L491.21,469.54L491.51,469.54L491.81,469.54L492.11,469.54L492.41,469.54L492.71,469.54L493.01,469.55L493.31,469.55L493.61,469.55L493.91,469.55L494.21,469.55L494.51,469.55L494.81,469.55L495.11,469.55L495.41,469.55L495.71,469.55L496.01,469.55L496.31,469.55L496.61,469.55L496.91,469.55L497.21,469.55L497.51,469.55L497.81,469.55L498.11,469.56L498.41,469.56L498.71,469.56L499.01,469.56L499.31,469.56L499.61,469.56L499.91,469.56L500.21,469.56L500.51,469.56L500.81,469.56L501.11,469.56L501.41,469.56L501.71,469.56L502.01,469.56L502.31,469.56L502.61,469.56L502.91,469.56L503.21,469.57L503.51,469.57L503.81,469.57L504.11,469.57L504.41,469.57L504.71,469.57L505.01,469.57L505.31,469.57L505.61,469.57L505.91,469.57L506.21,469.57L506.51,469.57L506.81,469.57L507.11,469.57L507.41,469.57L507.71,469.57L508.01,469.57L508.31,469.58L508.61,469.58L508.91,469.58L509.21,469.58L509.51,469.58L509.81,469.58L510.11,469.58L510.41,469.58L510.71,469.58L511.01,469.58L511.31,469.58L511.61,469.58L511.91,469.58L512.21,469.58L512.51,469.58L512.81,469.58L513.11,469.58L513.41,469.59L513.71,469.59L514.01,469.59L514.31,469.59L514.61,469.59L514.91,469.59L515.21,469.59L515.51,469.59L515.81,469.59L516.11,469.59L516.41,469.59L516.71,469.59L517.01,469.59L517.31,469.59L517.61,469.59L517.91,469.59L518.21,469.59L518.51,469.60L518.81,469.60L519.11,469.60L519.41,469.60L519.71,469.60L520.01,469.60L520.31,469.60L520.61,469.60L520.91,469.60" stroke="#111" stroke-width="2.6" fill="none" stroke-linejoin="round"/>
<path d="M59.21,457.81L60.11,455.82L61.01,456.10L62.51,453.14L63.71,455.43L64.61,452.79L66.11,456.52L67.61,453.43L69.11,455.25L70.61,455.19L72.11,456.08L73.61,452.29L75.11,455.85L76.61,452.01L78.11,456.39L79.91,453.67L81.71,456.47L83.21,456.52L84.71,458.31L86.21,458.30L88.01,461.35L89.51,459.89L91.01,456.67L92.51,453.90L93.41,453.71L95.21,449.59L96.71,452.05L97.91,447.65L99.71,450.58L100.61,447.30L102.11,448.98L103.61,447.77L105.11,447.96L106.01,443.70L106.91,446.44L108.11,442.60L109.61,444.36L110.81,440.60L112.31,440.11L113.81,441.61L115.01,442.95L116.51,442.93L118.01,445.83L119.51,446.08L121.31,449.16L122.21,445.46L123.11,445.73L124.91,427.87L126.41,431.11L127.61,420.72L129.41,424.10L130.31,424.25L131.21,425.41L133.01,425.15L133.91,427.86L135.41,415.03L136.91,420.38L138.41,422.03L139.61,420.43L141.41,414.67L142.61,417.31L144.11,413.89L145.31,411.10L146.81,405.56L148.61,406.81L150.41,399.34L152.21,399.39L154.01,395.15L155.51,393.27L157.31,388.43L158.51,390.36L160.31,386.98L162.11,387.51L163.91,384.25L164.81,387.74L166.31,384.06L167.51,388.15L168.41,385.15L169.31,386.78L170.51,383.07L172.01,384.43L173.81,379.87L175.01,385.57L176.51,380.20L177.71,384.30L179.51,383.23L181.01,381.77L182.51,379.36L184.31,377.43L185.81,377.73L187.31,380.85L188.81,380.18L189.71,383.51L191.51,387.30L193.01,390.34L194.51,390.66L195.71,389.88L196.61,385.12L198.11,380.73L199.61,376.04L201.11,376.74L202.61,378.33L203.81,380.85L205.31,379.90L206.51,384.58L208.01,386.08L209.51,402.87L211.31,417.07L212.81,434.53L214.61,448.60L215.81,463.14L217.01,463.81L217.91,452.20L219.71,419.48L221.21,397.29L222.41,385.46L223.91,381.89L225.41,380.70L226.31,382.22L227.81,375.78L229.01,374.56L230.51,366.99L232.31,364.72L234.11,356.24L235.61,355.37L237.11,349.76L238.91,353.60L240.41,354.22L241.91,356.97L243.41,354.27L244.91,360.16L246.41,361.03L247.31,364.50L248.81,368.14L250.31,376.23L251.21,377.29L252.41,381.17L253.31,381.14L254.21,382.38L255.11,378.78L256.31,382.07L257.21,380.38L258.71,381.98L259.61,380.43L261.11,376.94L262.61,372.05L263.51,369.59L264.71,368.67L266.21,371.01L267.71,367.61L268.91,371.47L270.71,369.38L272.21,370.42L274.01,366.15L274.91,372.86L275.81,373.01L276.71,380.94L278.21,377.01L279.11,378.47L280.61,374.78L282.11,374.18L283.61,368.04L285.41,366.06L287.21,362.60L288.41,361.63L290.21,358.49L292.01,362.57L293.81,362.07L295.61,360.78L296.81,361.70L298.31,366.23L300.11,365.16L301.61,367.98L302.81,367.68L304.61,370.37L305.51,367.81L307.31,366.36L309.11,362.14L310.01,361.54L311.51,358.04L313.01,357.72L314.21,354.42L315.71,358.49L317.21,357.99L319.01,358.25L320.51,355.96L322.01,365.39L323.21,354.79L324.41,357.52L326.21,355.04L327.11,358.08L328.61,354.37L329.81,358.46L331.61,359.16L333.11,359.62L334.31,358.72L336.11,356.00L337.61,354.25L339.11,355.85L340.01,352.50L341.51,352.82L342.71,347.93L344.21,374.36L345.71,380.02L347.51,381.71L349.01,378.93L350.51,383.82L352.01,384.49L352.91,388.37L354.71,389.49L356.21,390.16L358.01,395.01L359.81,398.70L361.01,401.43L362.21,416.75L364.01,398.35L364.91,401.51L366.71,403.74L368.51,408.42L369.41,408.40L370.61,413.69L371.81,417.82L373.01,424.56L373.91,427.58L375.71,439.48L377.21,418.09L378.71,408.43L379.61,403.21L381.11,404.69L382.31,412.20L384.11,421.28L385.31,424.46L387.11,430.39L388.61,432.21L390.11,417.61L391.61,410.79L393.41,409.59L395.21,405.96L397.01,408.60L398.51,406.76L400.01,405.90L401.81,398.96L403.61,402.85L405.11,400.38L406.01,402.67L407.81,407.39L408.71,411.14L409.61,412.97L411.11,421.62L412.01,427.20L412.91,432.43L414.11,438.44L415.31,445.64L416.51,451.02L416.51,454.30L415.31,449.23L414.11,443.04L412.91,437.42L412.01,432.50L411.11,426.69L409.61,420.33L408.71,418.94L407.81,414.28L406.01,409.57L405.11,408.48L403.61,409.21L401.81,407.17L400.01,412.26L398.51,412.80L397.01,416.67L395.21,414.18L393.41,417.14L391.61,419.28L390.11,423.73L388.61,439.61L387.11,437.50L385.31,431.68L384.11,428.92L382.31,418.89L381.11,411.07L379.61,410.71L378.71,414.80L377.21,425.70L375.71,446.06L373.91,435.03L373.01,431.87L371.81,424.59L370.61,421.01L369.41,416.31L368.51,415.73L366.71,411.07L364.91,408.85L364.01,406.79L362.21,425.06L361.01,408.42L359.81,406.75L358.01,401.94L356.21,397.21L354.71,396.95L352.91,395.79L352.01,392.59L350.51,391.53L349.01,386.52L347.51,390.12L345.71,386.74L344.21,381.21L342.71,356.61L341.51,363.54L340.01,362.28L339.11,366.49L337.61,362.30L336.11,364.71L334.31,367.25L333.11,369.25L331.61,367.67L329.81,366.68L328.61,365.24L327.11,368.40L326.21,365.18L324.41,368.08L323.21,365.81L322.01,375.40L320.51,364.63L319.01,369.32L317.21,366.74L315.71,367.17L314.21,364.85L313.01,367.86L311.51,367.64L310.01,371.95L309.11,371.96L307.31,376.69L305.51,377.20L304.61,383.08L302.81,378.41L301.61,378.47L300.11,373.62L298.31,374.69L296.81,369.36L295.61,369.16L293.81,370.73L292.01,372.64L290.21,368.18L288.41,371.15L287.21,372.95L285.41,375.79L283.61,378.77L282.11,384.35L280.61,383.74L279.11,387.20L278.21,385.96L276.71,389.00L275.81,384.48L274.91,385.09L274.01,379.48L272.21,381.83L270.71,379.47L268.91,380.45L267.71,376.98L266.21,381.06L264.71,379.34L263.51,380.68L262.61,381.32L261.11,391.10L259.61,392.14L258.71,392.02L257.21,391.07L256.31,394.00L255.11,390.31L254.21,393.28L253.31,390.99L252.41,390.60L251.21,387.90L250.31,388.03L248.81,380.04L247.31,379.49L246.41,372.32L244.91,372.92L243.41,367.28L241.91,369.25L240.41,365.26L238.91,366.54L237.11,364.65L235.61,371.36L234.11,372.11L232.31,377.36L230.51,381.80L229.01,386.51L227.81,387.68L226.31,391.46L225.41,390.26L223.91,390.96L222.41,395.07L221.21,411.79L219.71,438.03L217.91,463.52L217.01,469.42L215.81,470.68L214.61,461.83L212.81,453.58L211.31,433.35L209.51,420.27L208.01,400.90L206.51,397.27L205.31,392.41L203.81,392.52L202.61,391.79L201.11,394.03L199.61,391.96L198.11,395.72L196.61,403.34L195.71,412.61L194.51,409.63L193.01,404.63L191.51,400.29L189.71,397.65L188.81,394.01L187.31,393.98L185.81,391.99L184.31,394.25L182.51,392.22L181.01,396.34L179.51,395.08L177.71,399.02L176.51,399.51L175.01,402.02L173.81,399.60L172.01,400.37L170.51,397.92L169.31,401.06L168.41,399.36L167.51,401.60L166.31,401.25L164.81,404.76L163.91,402.45L162.11,410.21L160.31,408.01L158.51,413.96L157.31,409.17L155.51,417.01L154.01,414.54L152.21,420.83L150.41,422.01L148.61,428.22L146.81,431.96L145.31,439.49L144.11,436.85L142.61,452.56L141.41,444.59L139.61,449.75L138.41,449.64L136.91,461.44L135.41,452.82L133.91,451.16L133.01,449.44L131.21,448.56L130.31,444.34L129.41,447.70L127.61,449.63L126.41,457.85L124.91,460.21L123.11,467.55L122.21,468.57L121.31,470.50L119.51,464.19L118.01,465.39L116.51,461.59L115.01,465.63L113.81,466.22L112.31,458.96L110.81,458.54L109.61,463.20L108.11,458.14L106.91,460.02L106.01,458.71L105.11,464.06L103.61,459.66L102.11,464.31L100.61,461.47L99.71,463.23L97.91,461.84L96.71,465.40L95.21,463.62L93.41,465.07L92.51,465.18L91.01,471.32L89.51,471.57L88.01,473.19L86.21,469.79L84.71,474.16L83.21,468.97L81.71,472.51L79.91,468.16L78.11,472.83L76.61,468.59L75.11,470.33L73.61,468.00L72.11,468.45L70.61,467.30L69.11,470.83L67.61,468.42L66.11,469.96L64.61,468.70L63.71,470.53L62.51,469.25L61.01,470.30L60.11,469.60L59.21,472.81Z" fill="#111" stroke="#111" stroke-width="0.8" stroke-linejoin="miter"/>
</g>
<g font-family="Liberation Sans, Arial, sans-serif" fill="#111" stroke="#111">
<text transform="translate(216.37,20.70) scale(1.0541,1)" font-size="19.20" stroke-width="0.25">Wavelength (nm)</text>
<text transform="translate(38.65,47.42)" font-size="20.00" stroke-width="0.25">10000</text>
<text transform="translate(173.05,47.32)" font-size="20.00" stroke-width="0.25">4600</text>
<text transform="translate(422.00,47.72)" font-size="20.00" stroke-width="0.25">2300</text>
<text transform="translate(496.90,47.72)" font-size="20.00" stroke-width="0.25">2000</text>
<text transform="translate(24.02,70.38)" font-size="20.00" stroke-width="0.25">100</text>
<text transform="translate(35.40,130.03)" font-size="20.00" stroke-width="0.25">50</text>
<text transform="translate(46.10,188.38)" font-size="20.00" stroke-width="0.25">0</text>
<text transform="translate(46.42,213.58)" font-size="20.00" stroke-width="0.25">1</text>
<text transform="translate(31.05,274.38)" font-size="20.00" stroke-width="0.25">0.5</text>
<text transform="translate(46.58,331.72)" font-size="20.00" stroke-width="0.25">0</text>
<text transform="translate(46.90,358.08)" font-size="20.00" stroke-width="0.25">1</text>
<text transform="translate(29.45,416.68)" font-size="20.00" stroke-width="0.25">0.5</text>
<text transform="translate(45.78,477.58)" font-size="20.00" stroke-width="0.25">0</text>
<text transform="translate(39.50,501.87)" font-size="20.00" stroke-width="0.25">1000</text>
<text transform="translate(153.73,501.72)" font-size="20.00" stroke-width="0.25">2000</text>
<text transform="translate(270.35,501.72)" font-size="20.00" stroke-width="0.25">3000</text>
<text transform="translate(384.60,501.72)" font-size="20.00" stroke-width="0.25">4000</text>
<text transform="translate(498.32,501.72)" font-size="20.00" stroke-width="0.25">5000</text>
<text transform="translate(205.12,523.05) scale(1.0559,1)" font-size="19.21" stroke-width="0.25">Wavenumber (cm<tspan font-size="58%" dy="-0.49em">-1</tspan><tspan dy="0.284em">)</tspan></text>
<text transform="translate(23.30,148.55) rotate(-90) scale(0.9920,1)" font-size="20.59" stroke-width="0.25">T (%)</text>
<text transform="translate(23.30,399.20) rotate(-90) scale(0.9750,1)" font-size="20.60" stroke-width="0.25">Intensity (norm.)</text>
<text transform="translate(75.13,70.23) scale(1.0350,1)" font-size="20.00" stroke-width="0.25">(a)</text>
<text transform="translate(75.33,213.67) scale(1.0350,1)" font-size="20.00" stroke-width="0.25">(b)</text>
<text transform="translate(75.03,358.50) scale(1.0400,1)" font-size="20.00" stroke-width="0.45">(c)</text>
</g>
</svg>
</body></html>
